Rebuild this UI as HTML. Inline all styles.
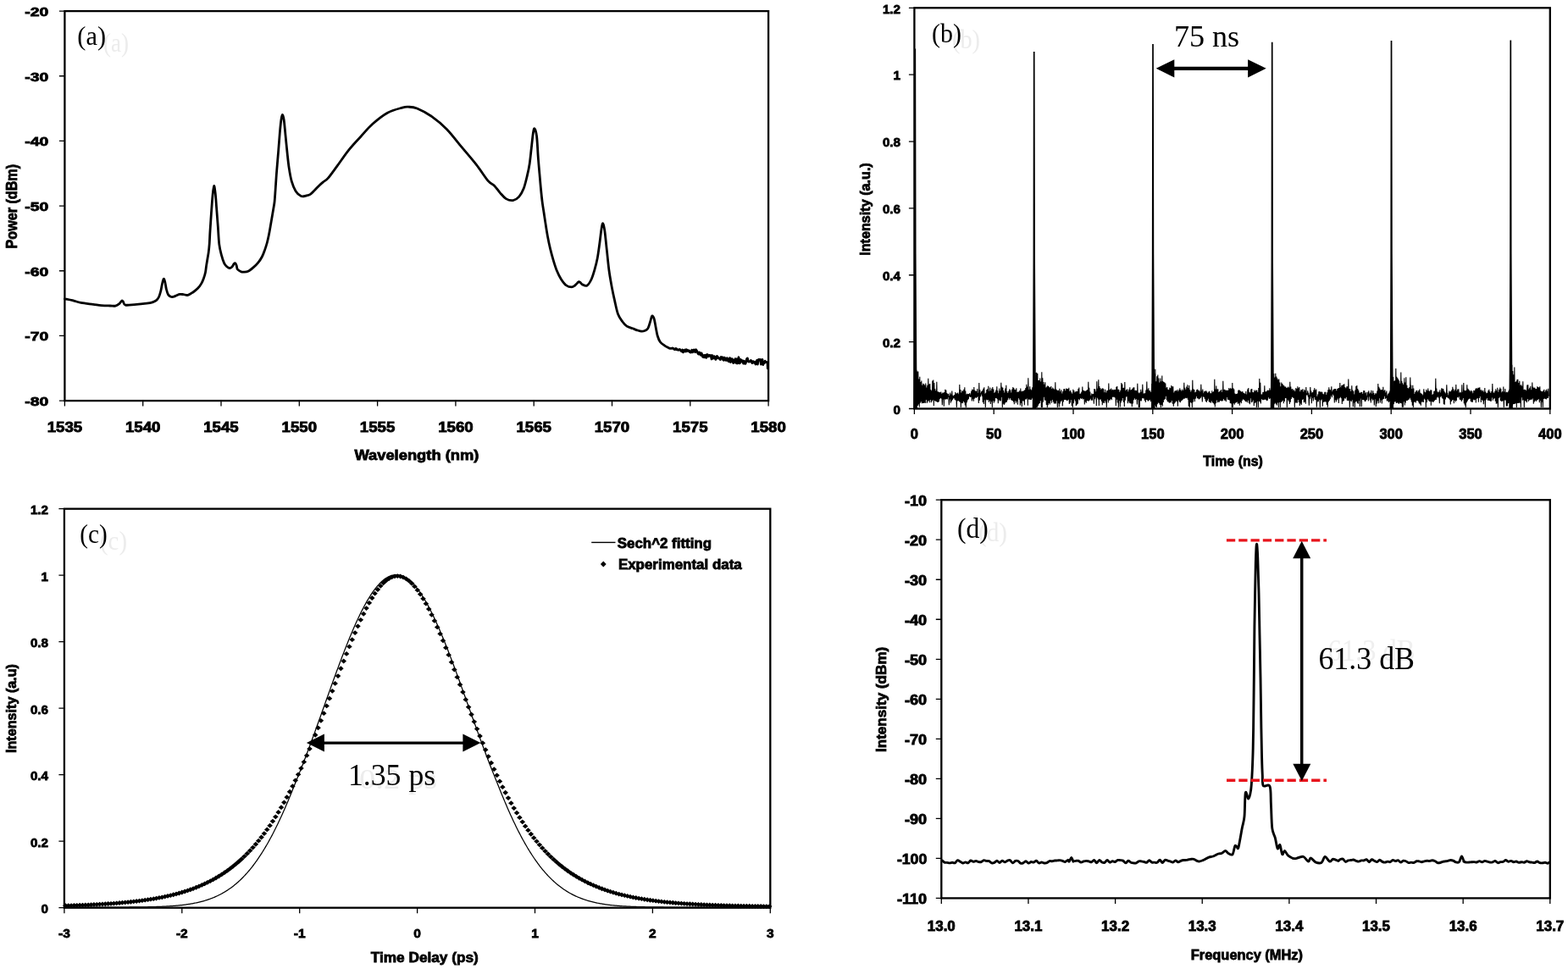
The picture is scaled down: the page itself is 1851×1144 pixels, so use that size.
<!DOCTYPE html><html><head><meta charset="utf-8"><title>Figure</title><style>html,body{margin:0;padding:0;background:#fff;overflow:hidden;}svg{display:block;}</style></head><body>
<svg width="1851" height="1144" viewBox="0 0 1851 1144">
<rect width="1851" height="1144" fill="#fff"/>
<path d="M76.4,352.8 C77.95,353.12 82.53,353.93 85.7,354.7 C88.87,355.47 91.35,356.63 95.4,357.4 C99.45,358.17 105.93,358.77 110,359.3 C114.07,359.83 116.47,360.32 119.8,360.6 C123.13,360.88 127.25,360.92 130,361 C132.75,361.08 134.5,361.5 136.3,361.1 C138.1,360.7 139.53,359.62 140.8,358.6 C142.07,357.58 143.1,355.33 143.9,355 C144.7,354.67 144.92,355.75 145.6,356.6 C146.28,357.45 145.82,359.6 148,360.1 C150.18,360.6 154.5,359.93 158.7,359.6 C162.9,359.27 169.65,358.57 173.2,358.1 C176.75,357.63 178.12,357.38 180,356.8 C181.88,356.22 183.23,355.65 184.5,354.6 C185.77,353.55 186.72,352.35 187.6,350.5 C188.48,348.65 189.17,346 189.8,343.5 C190.43,341 190.83,337.88 191.4,335.5 C191.97,333.12 192.62,329.53 193.2,329.2 C193.78,328.87 194.37,331.45 194.9,333.5 C195.43,335.55 195.8,339.12 196.4,341.5 C197,343.88 197.65,346.35 198.5,347.8 C199.35,349.25 200.52,349.77 201.5,350.2 C202.48,350.63 203.23,350.63 204.4,350.4 C205.57,350.17 207.22,349.3 208.5,348.8 C209.78,348.3 210.77,347.6 212.1,347.4 C213.43,347.2 214.87,347.43 216.5,347.6 C218.13,347.77 220,348.83 221.9,348.4 C223.8,347.97 225.95,346.35 227.9,345 C229.85,343.65 231.95,342.03 233.6,340.3 C235.25,338.57 236.67,336.52 237.8,334.6 C238.93,332.68 239.62,330.98 240.4,328.8 C241.18,326.62 241.97,324.03 242.5,321.5 C243.03,318.97 243.2,316.23 243.6,313.6 C244,310.97 244.47,308.32 244.9,305.7 C245.33,303.08 245.82,300.85 246.2,297.9 C246.58,294.95 246.9,292.17 247.2,288 C247.5,283.83 247.63,278.9 248,272.9 C248.37,266.9 248.9,258.98 249.4,252 C249.9,245.02 250.47,236.43 251,231 C251.53,225.57 252.05,219.73 252.6,219.4 C253.15,219.07 253.78,224.45 254.3,229 C254.82,233.55 255.2,240.25 255.7,246.7 C256.2,253.15 256.78,260.7 257.3,267.7 C257.82,274.7 258.1,283.1 258.8,288.7 C259.5,294.3 260.53,297.63 261.5,301.3 C262.47,304.97 263.6,308.5 264.6,310.7 C265.6,312.9 266.45,313.53 267.5,314.5 C268.55,315.47 269.82,316.43 270.9,316.5 C271.98,316.57 273.12,315.73 274,314.9 C274.88,314.07 275.58,312.2 276.2,311.5 C276.82,310.8 277.2,310.37 277.7,310.7 C278.2,311.03 278.75,312.28 279.2,313.5 C279.65,314.72 279.52,316.8 280.4,318 C281.28,319.2 283.33,320.18 284.5,320.7 C285.67,321.22 286,321.17 287.4,321.1 C288.8,321.03 290.93,321.22 292.9,320.3 C294.87,319.38 297.23,317.3 299.2,315.6 C301.17,313.9 303,312.2 304.7,310.1 C306.4,308 308.08,305.5 309.4,303 C310.72,300.5 311.62,297.85 312.6,295.1 C313.58,292.35 314.52,289.38 315.3,286.5 C316.08,283.62 316.63,281.08 317.3,277.8 C317.97,274.52 318.65,270.48 319.3,266.8 C319.95,263.12 320.62,259.12 321.2,255.7 C321.78,252.28 322.32,249.25 322.8,246.3 C323.28,243.35 323.72,241.6 324.1,238 C324.48,234.4 324.7,230.37 325.1,224.7 C325.5,219.03 325.93,211.45 326.5,204 C327.07,196.55 327.87,187.83 328.5,180 C329.13,172.17 329.72,163.5 330.3,157 C330.88,150.5 331.45,144.58 332,141 C332.55,137.42 333.07,135.37 333.6,135.5 C334.13,135.63 334.63,137.78 335.2,141.8 C335.77,145.82 336.35,153.13 337,159.6 C337.65,166.07 338.4,174.13 339.1,180.6 C339.8,187.07 340.33,192.8 341.2,198.4 C342.07,204 342.98,209.65 344.3,214.2 C345.62,218.75 347.25,222.82 349.1,225.7 C350.95,228.58 353.32,230.62 355.4,231.5 C357.48,232.38 359.77,231.35 361.6,231 C363.43,230.65 364.75,230.48 366.4,229.4 C368.05,228.32 369.75,226.25 371.5,224.5 C373.25,222.75 375.15,220.57 376.9,218.9 C378.65,217.23 380.25,215.95 382,214.5 C383.75,213.05 384.75,213.25 387.4,210.2 C390.05,207.15 393.82,201.75 397.9,196.2 C401.98,190.65 407.23,182.73 411.9,176.9 C416.57,171.07 421.23,166.3 425.9,161.2 C430.57,156.1 434.65,150.97 439.9,146.3 C445.15,141.63 451.57,136.4 457.4,133.2 C463.23,130 470.82,128.27 474.9,127.1 C478.98,125.93 479,126.05 481.9,126.2 C484.8,126.35 487.65,126.1 492.3,128 C496.95,129.9 503.97,133.52 509.8,137.6 C515.63,141.68 521.47,146.53 527.3,152.5 C533.13,158.47 538.97,166.42 544.8,173.4 C550.63,180.38 557.05,187.68 562.3,194.4 C567.55,201.12 572.8,209.62 576.3,213.7 C579.8,217.78 580.97,216.58 583.3,218.9 C585.63,221.22 587.97,224.98 590.3,227.6 C592.63,230.22 594.75,233.1 597.3,234.6 C599.85,236.1 603.05,236.97 605.6,236.6 C608.15,236.23 610.5,234.73 612.6,232.4 C614.7,230.07 616.57,226.8 618.2,222.6 C619.83,218.4 621.23,212.1 622.4,207.2 C623.57,202.3 624.38,198.57 625.2,193.2 C626.02,187.83 626.6,181.07 627.3,175 C628,168.93 628.77,160.65 629.4,156.8 C630.03,152.95 630.4,151.2 631.1,151.9 C631.8,152.6 632.9,155.32 633.6,161 C634.3,166.68 634.75,178.67 635.3,186 C635.85,193.33 636.38,199 636.9,205 C637.42,211 637.87,216.48 638.4,222 C638.93,227.52 639.5,233.32 640.1,238.1 C640.7,242.88 641.37,246.48 642,250.7 C642.63,254.92 643.17,258.73 643.9,263.4 C644.63,268.07 645.45,273.62 646.4,278.7 C647.35,283.78 648.43,289.05 649.6,293.9 C650.77,298.75 652.13,303.58 653.4,307.8 C654.67,312.02 655.72,315.6 657.2,319.2 C658.68,322.8 660.4,326.43 662.3,329.4 C664.2,332.37 666.5,335.42 668.6,337 C670.7,338.58 673.22,338.9 674.9,338.9 C676.58,338.9 677.6,337.78 678.7,337 C679.8,336.22 680.72,334.93 681.5,334.2 C682.28,333.47 682.72,332.63 683.4,332.6 C684.08,332.57 684.92,333.45 685.6,334 C686.28,334.55 686.3,335.37 687.5,335.9 C688.7,336.43 691.05,338.18 692.8,337.2 C694.55,336.22 696.47,333.17 698,330 C699.53,326.83 700.8,322.35 702,318.2 C703.2,314.05 704.22,310.35 705.2,305.1 C706.18,299.85 707.08,292.6 707.9,286.7 C708.72,280.8 709.45,273.52 710.1,269.7 C710.75,265.88 711.18,263.37 711.8,263.8 C712.42,264.23 713.03,266.95 713.8,272.3 C714.57,277.65 715.53,288.03 716.4,295.9 C717.27,303.77 718.02,312.28 719,319.5 C719.98,326.72 721.2,333.3 722.3,339.2 C723.4,345.1 724.4,349.65 725.6,354.9 C726.8,360.15 727.97,366.55 729.5,370.7 C731.03,374.85 733.05,377.4 734.8,379.8 C736.55,382.2 737.98,383.77 740,385.1 C742.02,386.43 744.9,387.02 746.9,387.8 C748.9,388.58 750.25,389.23 752,389.8 C753.75,390.37 755.82,391.13 757.4,391.2 C758.98,391.27 760.25,390.8 761.5,390.2 C762.75,389.6 763.87,389.4 764.9,387.6 C765.93,385.8 766.9,381.83 767.7,379.4 C768.5,376.97 768.95,373.48 769.7,373 C770.45,372.52 771.45,374.22 772.2,376.5 C772.95,378.78 773.53,383.37 774.2,386.7 C774.87,390.03 775.33,393.65 776.2,396.5 C777.07,399.35 778.05,401.92 779.4,403.8 C780.75,405.68 782.4,406.53 784.3,407.8 C786.2,409.07 789.72,410.8 790.8,411.4 L792,411.29 L792.8,411.44 L793.6,411 L794.4,411.05 L795.2,411.67 L796,412.4 L796.8,412.69 L797.6,411.48 L798.4,411.55 L799.2,412.93 L800,412.71 L800.8,413.23 L801.6,412.81 L802.4,412.34 L803.2,413.39 L804,414.32 L804.8,414.89 L805.6,413 L806.4,415.83 L807.2,415.16 L808,413.44 L808.8,412.97 L809.6,415.03 L810.4,412.71 L811.2,414.41 L812,413.51 L812.8,414.46 L813.6,413.97 L814.4,415.7 L815.2,416.11 L816,415.89 L816.8,413.28 L817.6,415.84 L818.4,414.47 L819.2,412.95 L820,414.95 L820.8,415.65 L821.6,412.78 L822.4,414.03 L823.2,415.46 L824,417.4 L824.8,418.13 L825.6,415.94 L826.4,417.56 L827.2,419.23 L828,416.9 L828.8,418.63 L829.6,421.35 L830.4,419.61 L831.2,421.91 L832,419.41 L832.8,419.6 L833.6,422.43 L834.4,418.6 L835.2,418.72 L836,420.9 L836.8,419.63 L837.6,419.41 L838.4,420.52 L839.2,419.6 L840,423.97 L840.8,419.61 L841.6,423.06 L842.4,422.93 L843.2,420.62 L844,421.5 L844.8,424.39 L845.6,421.38 L846.4,420.42 L847.2,422.71 L848,421.97 L848.8,423.04 L849.6,423.64 L850.4,424.55 L851.2,421.52 L852,422.71 L852.8,421.74 L853.6,424.73 L854.4,425.22 L855.2,422.12 L856,423.1 L856.8,425.35 L857.6,425.42 L858.4,422.74 L859.2,425.29 L860,426.67 L860.8,425.78 L861.6,422.69 L862.4,427.58 L863.2,426.83 L864,423.68 L864.8,424.72 L865.6,428.58 L866.4,425.28 L867.2,427.24 L868,423.73 L868.8,428.42 L869.6,423.92 L870.4,428.99 L871.2,425.23 L872,421.75 L872.8,428.89 L873.6,428.56 L874.4,424.54 L875.2,425.08 L876,426.95 L876.8,425.95 L877.6,429.09 L878.4,426.27 L879.2,429.14 L880,429.27 L880.8,426.84 L881.6,423.57 L882.4,423.03 L883.2,426.56 L884,427.13 L884.8,426.92 L885.6,426.9 L886.4,425.39 L887.2,426.95 L888,428.66 L888.8,426.58 L889.6,427.03 L890.4,428.3 L891.2,427.22 L892,429.99 L892.8,429.56 L893.6,425.36 L894.4,430.04 L895.2,424.5 L896,424.33 L896.8,425.01 L897.6,424.37 L898.4,430.07 L899.2,426.06 L900,424.45 L900.8,430.5 L901.6,428.19 L902.4,428.47 L903.2,426.31 L904,427.45 L904.8,427.39 L906,428.5 L906.3,435" fill="none" stroke="#000" stroke-width="2.8" stroke-linejoin="round" stroke-linecap="round"/>
<rect x="76.4" y="13.1" width="830.7" height="460" fill="none" stroke="#000" stroke-width="2.3"/>
<path d="M76.4,473.1V479.6M168.7,473.1V479.6M261,473.1V479.6M353.3,473.1V479.6M445.6,473.1V479.6M537.9,473.1V479.6M630.2,473.1V479.6M722.5,473.1V479.6M814.8,473.1V479.6M907.1,473.1V479.6" stroke="#000" stroke-width="1.3" fill="none"/>
<path d="M69.9,13.1H76.4M69.9,89.77H76.4M69.9,166.43H76.4M69.9,243.1H76.4M69.9,319.77H76.4M69.9,396.43H76.4M69.9,473.1H76.4" stroke="#000" stroke-width="1.3" fill="none"/>
<text x="76.4" y="509.5" font-family="'Liberation Sans', Arial, sans-serif" font-size="16.5" font-weight="bold" text-anchor="middle" fill="#000" textLength="41.5" lengthAdjust="spacingAndGlyphs" stroke="#000" stroke-width="0.8">1535</text>
<text x="168.7" y="509.5" font-family="'Liberation Sans', Arial, sans-serif" font-size="16.5" font-weight="bold" text-anchor="middle" fill="#000" textLength="41.5" lengthAdjust="spacingAndGlyphs" stroke="#000" stroke-width="0.8">1540</text>
<text x="261" y="509.5" font-family="'Liberation Sans', Arial, sans-serif" font-size="16.5" font-weight="bold" text-anchor="middle" fill="#000" textLength="41.5" lengthAdjust="spacingAndGlyphs" stroke="#000" stroke-width="0.8">1545</text>
<text x="353.3" y="509.5" font-family="'Liberation Sans', Arial, sans-serif" font-size="16.5" font-weight="bold" text-anchor="middle" fill="#000" textLength="41.5" lengthAdjust="spacingAndGlyphs" stroke="#000" stroke-width="0.8">1550</text>
<text x="445.6" y="509.5" font-family="'Liberation Sans', Arial, sans-serif" font-size="16.5" font-weight="bold" text-anchor="middle" fill="#000" textLength="41.5" lengthAdjust="spacingAndGlyphs" stroke="#000" stroke-width="0.8">1555</text>
<text x="537.9" y="509.5" font-family="'Liberation Sans', Arial, sans-serif" font-size="16.5" font-weight="bold" text-anchor="middle" fill="#000" textLength="41.5" lengthAdjust="spacingAndGlyphs" stroke="#000" stroke-width="0.8">1560</text>
<text x="630.2" y="509.5" font-family="'Liberation Sans', Arial, sans-serif" font-size="16.5" font-weight="bold" text-anchor="middle" fill="#000" textLength="41.5" lengthAdjust="spacingAndGlyphs" stroke="#000" stroke-width="0.8">1565</text>
<text x="722.5" y="509.5" font-family="'Liberation Sans', Arial, sans-serif" font-size="16.5" font-weight="bold" text-anchor="middle" fill="#000" textLength="41.5" lengthAdjust="spacingAndGlyphs" stroke="#000" stroke-width="0.8">1570</text>
<text x="814.8" y="509.5" font-family="'Liberation Sans', Arial, sans-serif" font-size="16.5" font-weight="bold" text-anchor="middle" fill="#000" textLength="41.5" lengthAdjust="spacingAndGlyphs" stroke="#000" stroke-width="0.8">1575</text>
<text x="907.1" y="509.5" font-family="'Liberation Sans', Arial, sans-serif" font-size="16.5" font-weight="bold" text-anchor="middle" fill="#000" textLength="41.5" lengthAdjust="spacingAndGlyphs" stroke="#000" stroke-width="0.8">1580</text>
<text x="57.3" y="19" font-family="'Liberation Sans', Arial, sans-serif" font-size="15.5" font-weight="bold" text-anchor="end" fill="#000" textLength="28" lengthAdjust="spacingAndGlyphs" stroke="#000" stroke-width="0.8">-20</text>
<text x="57.3" y="95.67" font-family="'Liberation Sans', Arial, sans-serif" font-size="15.5" font-weight="bold" text-anchor="end" fill="#000" textLength="28" lengthAdjust="spacingAndGlyphs" stroke="#000" stroke-width="0.8">-30</text>
<text x="57.3" y="172.33" font-family="'Liberation Sans', Arial, sans-serif" font-size="15.5" font-weight="bold" text-anchor="end" fill="#000" textLength="28" lengthAdjust="spacingAndGlyphs" stroke="#000" stroke-width="0.8">-40</text>
<text x="57.3" y="249" font-family="'Liberation Sans', Arial, sans-serif" font-size="15.5" font-weight="bold" text-anchor="end" fill="#000" textLength="28" lengthAdjust="spacingAndGlyphs" stroke="#000" stroke-width="0.8">-50</text>
<text x="57.3" y="325.67" font-family="'Liberation Sans', Arial, sans-serif" font-size="15.5" font-weight="bold" text-anchor="end" fill="#000" textLength="28" lengthAdjust="spacingAndGlyphs" stroke="#000" stroke-width="0.8">-60</text>
<text x="57.3" y="402.33" font-family="'Liberation Sans', Arial, sans-serif" font-size="15.5" font-weight="bold" text-anchor="end" fill="#000" textLength="28" lengthAdjust="spacingAndGlyphs" stroke="#000" stroke-width="0.8">-70</text>
<text x="57.3" y="479" font-family="'Liberation Sans', Arial, sans-serif" font-size="15.5" font-weight="bold" text-anchor="end" fill="#000" textLength="28" lengthAdjust="spacingAndGlyphs" stroke="#000" stroke-width="0.8">-80</text>
<text x="491.9" y="543" font-family="'Liberation Sans', Arial, sans-serif" font-size="17" font-weight="bold" text-anchor="middle" fill="#000" textLength="147" lengthAdjust="spacingAndGlyphs" stroke="#000" stroke-width="0.8">Wavelength (nm)</text>
<text transform="translate(20.2,243.7) rotate(-90)" x="0" y="0" font-family="'Liberation Sans', Arial, sans-serif" font-size="17.5" font-weight="bold" text-anchor="middle" stroke="#000" stroke-width="0.8" textLength="99.5" lengthAdjust="spacingAndGlyphs">Power (dBm)</text>
<text x="122" y="61" font-family="'Liberation Serif', 'Times New Roman', serif" font-size="32" font-weight="normal" text-anchor="start" fill="#ececec" textLength="30" lengthAdjust="spacingAndGlyphs">(a)</text>
<text x="91.3" y="52.9" font-family="'Liberation Serif', 'Times New Roman', serif" font-size="32.5" font-weight="normal" text-anchor="start" fill="#000" textLength="33.7" lengthAdjust="spacingAndGlyphs">(a)</text>
<path d="M1080.8,459.09 L1081.3,471.93 L1081.8,436.77 L1082.3,481 L1082.8,438.61 L1083.3,478.91 L1083.8,438.54 L1084.3,477.53 L1084.8,447.41 L1085.3,480.56 L1085.8,444.85 L1086.3,475.76 L1086.8,451.06 L1087.3,474.16 L1087.8,449.41 L1088.3,476.32 L1088.8,454.76 L1089.3,476.02 L1089.8,452.69 L1090.3,476.07 L1090.8,453.4 L1091.3,475.46 L1091.8,454.65 L1092.3,476.07 L1092.8,452.62 L1093.3,471.91 L1093.8,457.53 L1094.3,476.05 L1094.8,454.76 L1095.3,474.16 L1095.8,446.84 L1096.3,473 L1096.8,453.69 L1097.3,475.17 L1097.8,453 L1098.3,471.95 L1098.8,459.96 L1099.3,475.32 L1099.8,461.16 L1100.3,473.51 L1100.8,449.44 L1101.3,472.28 L1101.8,448.56 L1102.3,479.24 L1102.8,452.04 L1103.3,472.91 L1103.8,459.01 L1104.3,473.64 L1104.8,461.33 L1105.3,474.02 L1105.8,450.68 L1106.3,474.7 L1106.8,462.33 L1107.3,474.88 L1107.8,462.5 L1108.3,474.23 L1108.8,463 L1109.3,471.18 L1109.8,463.25 L1110.3,469.97 L1110.8,462.42 L1111.3,470.81 L1111.8,464.79 L1112.3,478.19 L1112.8,463.6 L1113.3,471.58 L1113.8,463.66 L1114.3,479.84 L1114.8,462.98 L1115.3,471.33 L1115.8,459.71 L1116.3,471.84 L1116.8,460.56 L1117.3,470.9 L1117.8,464.02 L1118.3,471.56 L1118.8,465.3 L1119.3,468.58 L1119.8,464.88 L1120.3,478.17 L1120.8,467.4 L1121.3,471.5 L1121.8,463.6 L1122.3,475.84 L1122.8,465.49 L1123.3,473.76 L1123.8,461.41 L1124.3,472.27 L1124.8,466.87 L1125.3,470.49 L1125.8,467.25 L1126.3,470.09 L1126.8,466.14 L1127.3,471.95 L1127.8,463.01 L1128.3,472.67 L1128.8,464.49 L1129.3,480.9 L1129.8,464.21 L1130.3,473.39 L1130.8,463.56 L1131.3,472.95 L1131.8,465.36 L1132.3,474.09 L1132.8,454.01 L1133.3,474.86 L1133.8,460 L1134.3,481 L1134.8,463.44 L1135.3,475.78 L1135.8,461.31 L1136.3,476.27 L1136.8,461.76 L1137.3,473.85 L1137.8,459.79 L1138.3,475.25 L1138.8,457.22 L1139.3,478.37 L1139.8,461.56 L1140.3,481 L1140.8,465.52 L1141.3,475.12 L1141.8,464.84 L1142.3,472.38 L1142.8,465.27 L1143.3,471.15 L1143.8,464.99 L1144.3,467.83 L1144.8,464.09 L1145.3,468.93 L1145.8,465.77 L1146.3,468.66 L1146.8,461.59 L1147.3,473.5 L1147.8,459.53 L1148.3,471.21 L1148.8,460.31 L1149.3,473.64 L1149.8,457.09 L1150.3,470.82 L1150.8,460.82 L1151.3,469.1 L1151.8,461.7 L1152.3,470 L1152.8,461.77 L1153.3,468.9 L1153.8,459.08 L1154.3,467.84 L1154.8,464.04 L1155.3,476.06 L1155.8,451.9 L1156.3,472.69 L1156.8,460.35 L1157.3,468.36 L1157.8,464.24 L1158.3,465.23 L1158.8,462.17 L1159.3,467.63 L1159.8,460.9 L1160.3,474.95 L1160.8,458.66 L1161.3,477.11 L1161.8,457.22 L1162.3,472.14 L1162.8,464.67 L1163.3,481 L1163.8,463.79 L1164.3,471.73 L1164.8,459.92 L1165.3,472.41 L1165.8,459.3 L1166.3,472.03 L1166.8,455.82 L1167.3,474.8 L1167.8,461.77 L1168.3,473.11 L1168.8,457.63 L1169.3,477.07 L1169.8,461.27 L1170.3,474.35 L1170.8,458.86 L1171.3,480.93 L1171.8,456.91 L1172.3,473.3 L1172.8,459.48 L1173.3,475.7 L1173.8,464.1 L1174.3,473.81 L1174.8,462.66 L1175.3,470 L1175.8,460.65 L1176.3,470.3 L1176.8,456.36 L1177.3,471.23 L1177.8,461.15 L1178.3,476.3 L1178.8,464.22 L1179.3,472.23 L1179.8,458.62 L1180.3,473.48 L1180.8,461.33 L1181.3,473.22 L1181.8,451.65 L1182.3,469.04 L1182.8,456.7 L1183.3,481 L1183.8,457.69 L1184.3,476.64 L1184.8,460.95 L1185.3,477.94 L1185.8,463.59 L1186.3,476.58 L1186.8,458.56 L1187.3,475.04 L1187.8,454.79 L1188.3,474.65 L1188.8,462.08 L1189.3,472.39 L1189.8,464.14 L1190.3,469.68 L1190.8,461.53 L1191.3,471.63 L1191.8,459.32 L1192.3,469.98 L1192.8,460.58 L1193.3,471.8 L1193.8,463.41 L1194.3,472.81 L1194.8,459.55 L1195.3,472.97 L1195.8,456.95 L1196.3,474.49 L1196.8,457.96 L1197.3,477.14 L1197.8,459.72 L1198.3,473.32 L1198.8,460.16 L1199.3,475.63 L1199.8,458.24 L1200.3,473.82 L1200.8,463.12 L1201.3,477.85 L1201.8,462.55 L1202.3,470.02 L1202.8,462.45 L1203.3,471.74 L1203.8,461.15 L1204.3,478.51 L1204.8,458.53 L1205.3,475.83 L1205.8,462.31 L1206.3,480.18 L1206.8,461.59 L1207.3,473.31 L1207.8,462 L1208.3,473.49 L1208.8,461.14 L1209.3,478.16 L1209.8,460.22 L1210.3,471.38 L1210.8,457.96 L1211.3,471.54 L1211.8,453.74 L1212.3,470.51 L1212.8,456.43 L1213.3,478.78 L1213.8,446.32 L1214.3,471.39 L1214.8,459.9 L1215.3,471.68 L1215.8,456.36 L1216.3,472 L1216.8,459.51 L1217.3,471.88 L1217.8,460.57 L1218.3,470.53 L1218.8,457.32 L1219.3,469.05 L1219.8,455.1 L1220.3,474.07 L1220.8,459.15 L1221.3,475.16 L1221.8,461.79 L1222.3,481.2 L1222.8,440.05 L1223.3,481 L1223.8,439.74 L1224.3,481 L1224.8,440.89 L1225.3,479.16 L1225.8,448.94 L1226.3,477.17 L1226.8,449.03 L1227.3,475.88 L1227.8,446.43 L1228.3,473.17 L1228.8,450.57 L1229.3,481 L1229.8,439.22 L1230.3,481 L1230.8,446.3 L1231.3,474.86 L1231.8,451.09 L1232.3,468.65 L1232.8,453.82 L1233.3,472.42 L1233.8,451.19 L1234.3,472.81 L1234.8,457.41 L1235.3,478.11 L1235.8,456.48 L1236.3,481 L1236.8,455.22 L1237.3,478.3 L1237.8,455.97 L1238.3,475.91 L1238.8,457.36 L1239.3,477.61 L1239.8,457.2 L1240.3,473.01 L1240.8,455.91 L1241.3,475.64 L1241.8,459.06 L1242.3,472.01 L1242.8,457.59 L1243.3,474.42 L1243.8,458.73 L1244.3,476.45 L1244.8,459.74 L1245.3,476.43 L1245.8,451.14 L1246.3,476.41 L1246.8,459.49 L1247.3,473.34 L1247.8,460.63 L1248.3,481 L1248.8,461.1 L1249.3,476.24 L1249.8,460.82 L1250.3,480.37 L1250.8,458.74 L1251.3,476.47 L1251.8,462.33 L1252.3,474.06 L1252.8,460.37 L1253.3,472.64 L1253.8,464.46 L1254.3,479.55 L1254.8,461.96 L1255.3,474.39 L1255.8,459.17 L1256.3,471.99 L1256.8,458.97 L1257.3,471.99 L1257.8,461.28 L1258.3,471.92 L1258.8,458.62 L1259.3,473.22 L1259.8,458.94 L1260.3,472.77 L1260.8,459.15 L1261.3,471.75 L1261.8,457.82 L1262.3,476.94 L1262.8,462.06 L1263.3,475.57 L1263.8,460.71 L1264.3,472.02 L1264.8,463.38 L1265.3,479.29 L1265.8,464.82 L1266.3,481 L1266.8,459.64 L1267.3,476.35 L1267.8,461.07 L1268.3,471.39 L1268.8,463.39 L1269.3,473.36 L1269.8,462.29 L1270.3,479.18 L1270.8,461.95 L1271.3,477.75 L1271.8,461.92 L1272.3,476.69 L1272.8,459.24 L1273.3,471.35 L1273.8,457.45 L1274.3,472.55 L1274.8,465.01 L1275.3,470.02 L1275.8,464.6 L1276.3,470.9 L1276.8,462.49 L1277.3,470.3 L1277.8,456.51 L1278.3,471.4 L1278.8,460.72 L1279.3,470.92 L1279.8,461.31 L1280.3,477.41 L1280.8,461.65 L1281.3,474.47 L1281.8,461.52 L1282.3,475.73 L1282.8,460.66 L1283.3,473.03 L1283.8,459.91 L1284.3,473.58 L1284.8,450.79 L1285.3,473.4 L1285.8,457.78 L1286.3,472.35 L1286.8,462.64 L1287.3,470.73 L1287.8,467.07 L1288.3,472.63 L1288.8,464.62 L1289.3,472.68 L1289.8,465.28 L1290.3,468.14 L1290.8,465.11 L1291.3,476.62 L1291.8,458.9 L1292.3,471.22 L1292.8,459.51 L1293.3,469.27 L1293.8,462.18 L1294.3,479.21 L1294.8,450.34 L1295.3,469.66 L1295.8,458.89 L1296.3,471.37 L1296.8,448.3 L1297.3,479.07 L1297.8,455.93 L1298.3,471.65 L1298.8,457.94 L1299.3,471.58 L1299.8,459.83 L1300.3,473.64 L1300.8,458.68 L1301.3,478.2 L1301.8,458.24 L1302.3,475.53 L1302.8,459.36 L1303.3,475.99 L1303.8,463.27 L1304.3,473.12 L1304.8,459.88 L1305.3,475.59 L1305.8,463.58 L1306.3,481 L1306.8,461.24 L1307.3,471.57 L1307.8,460.84 L1308.3,475.5 L1308.8,452.59 L1309.3,472.67 L1309.8,460.34 L1310.3,472.43 L1310.8,459.55 L1311.3,470.86 L1311.8,458.49 L1312.3,472.27 L1312.8,460.54 L1313.3,468.64 L1313.8,459.75 L1314.3,468.75 L1314.8,460.63 L1315.3,468.71 L1315.8,459.71 L1316.3,469.4 L1316.8,459.98 L1317.3,479.33 L1317.8,456.88 L1318.3,471.66 L1318.8,455.94 L1319.3,475.41 L1319.8,459.7 L1320.3,480.87 L1320.8,459.74 L1321.3,473.13 L1321.8,462.84 L1322.3,480.38 L1322.8,460.65 L1323.3,475.36 L1323.8,452.12 L1324.3,473.01 L1324.8,453.43 L1325.3,470.06 L1325.8,458.05 L1326.3,474.66 L1326.8,457.74 L1327.3,479.87 L1327.8,450.96 L1328.3,472.8 L1328.8,461.39 L1329.3,468.55 L1329.8,459.92 L1330.3,468.3 L1330.8,459.4 L1331.3,476.23 L1331.8,462.24 L1332.3,473.79 L1332.8,459.73 L1333.3,475.75 L1333.8,457.3 L1334.3,476.16 L1334.8,460.61 L1335.3,476.54 L1335.8,459.96 L1336.3,480.13 L1336.8,458.65 L1337.3,476.58 L1337.8,457.55 L1338.3,472.19 L1338.8,457.37 L1339.3,470.33 L1339.8,460.92 L1340.3,471.98 L1340.8,460.7 L1341.3,470.9 L1341.8,461.19 L1342.3,477.43 L1342.8,452.64 L1343.3,471.95 L1343.8,463.2 L1344.3,481 L1344.8,464.3 L1345.3,481 L1345.8,463.28 L1346.3,473.14 L1346.8,459.85 L1347.3,473.37 L1347.8,462.51 L1348.3,470.19 L1348.8,453.77 L1349.3,470.27 L1349.8,464.81 L1350.3,470.42 L1350.8,464.3 L1351.3,473.01 L1351.8,464.37 L1352.3,475.05 L1352.8,460.64 L1353.3,472.05 L1353.8,450.52 L1354.3,472.6 L1354.8,459.77 L1355.3,473.69 L1355.8,458.37 L1356.3,472.82 L1356.8,461.18 L1357.3,471.89 L1357.8,461.33 L1358.3,474.25 L1358.8,463.03 L1359.3,472.7 L1359.8,453.06 L1360.3,470.88 L1360.8,463 L1361.3,478.05 L1361.8,458.93 L1362.3,475.77 L1362.8,440.97 L1363.3,478.32 L1363.8,435.65 L1364.3,479.98 L1364.8,450.2 L1365.3,480.93 L1365.8,444.33 L1366.3,477.23 L1366.8,442.53 L1367.3,475.54 L1367.8,446.52 L1368.3,476.28 L1368.8,451.53 L1369.3,477.95 L1369.8,446.51 L1370.3,481 L1370.8,450.16 L1371.3,478.09 L1371.8,443.59 L1372.3,479.69 L1372.8,449.99 L1373.3,474.96 L1373.8,450.94 L1374.3,472.33 L1374.8,451.5 L1375.3,470.94 L1375.8,452.57 L1376.3,467.81 L1376.8,457.84 L1377.3,472.14 L1377.8,457.02 L1378.3,474.22 L1378.8,459.78 L1379.3,474.5 L1379.8,460.29 L1380.3,475.75 L1380.8,457.51 L1381.3,475.23 L1381.8,458.3 L1382.3,475.15 L1382.8,454.93 L1383.3,472.88 L1383.8,456.18 L1384.3,476.73 L1384.8,456.21 L1385.3,479.65 L1385.8,463.57 L1386.3,476.5 L1386.8,461.83 L1387.3,475.23 L1387.8,460.99 L1388.3,473.54 L1388.8,461.53 L1389.3,474.16 L1389.8,460.03 L1390.3,479.71 L1390.8,462.06 L1391.3,472.58 L1391.8,460.21 L1392.3,474.44 L1392.8,458.39 L1393.3,475.31 L1393.8,460.38 L1394.3,473.6 L1394.8,461.61 L1395.3,472.72 L1395.8,459.44 L1396.3,471.81 L1396.8,460.98 L1397.3,470.81 L1397.8,451.72 L1398.3,470.7 L1398.8,457.84 L1399.3,469.61 L1399.8,459.88 L1400.3,470.26 L1400.8,456.49 L1401.3,469.69 L1401.8,454.29 L1402.3,471.84 L1402.8,458.02 L1403.3,479.7 L1403.8,454.94 L1404.3,481 L1404.8,460.26 L1405.3,475.05 L1405.8,462.55 L1406.3,475.61 L1406.8,460.59 L1407.3,481 L1407.8,448.83 L1408.3,474.73 L1408.8,459.27 L1409.3,471.27 L1409.8,459.93 L1410.3,474.35 L1410.8,463.26 L1411.3,470.6 L1411.8,462.59 L1412.3,467.95 L1412.8,459.94 L1413.3,470.27 L1413.8,459.43 L1414.3,470.39 L1414.8,461.04 L1415.3,471.5 L1415.8,460.98 L1416.3,470.77 L1416.8,462.64 L1417.3,469.65 L1417.8,453.85 L1418.3,468.16 L1418.8,461.4 L1419.3,474.55 L1419.8,459.6 L1420.3,468.09 L1420.8,464.29 L1421.3,468.99 L1421.8,462.06 L1422.3,470.85 L1422.8,461.88 L1423.3,473.64 L1423.8,461.23 L1424.3,475.02 L1424.8,462.58 L1425.3,472.87 L1425.8,464.09 L1426.3,470.75 L1426.8,462.53 L1427.3,474.57 L1427.8,461.77 L1428.3,474.86 L1428.8,464.31 L1429.3,475.62 L1429.8,464.29 L1430.3,473.45 L1430.8,461.37 L1431.3,475.33 L1431.8,463.01 L1432.3,475.97 L1432.8,462.1 L1433.3,477.59 L1433.8,447.74 L1434.3,480.37 L1434.8,459.41 L1435.3,476.31 L1435.8,455.56 L1436.3,472.55 L1436.8,459.58 L1437.3,475.15 L1437.8,459.16 L1438.3,474.52 L1438.8,462.95 L1439.3,474.83 L1439.8,461.98 L1440.3,473.23 L1440.8,461.09 L1441.3,473.2 L1441.8,459.65 L1442.3,473.6 L1442.8,463.12 L1443.3,473.24 L1443.8,449.66 L1444.3,471.03 L1444.8,460.01 L1445.3,472.65 L1445.8,459.82 L1446.3,472.72 L1446.8,460.66 L1447.3,474.2 L1447.8,460.85 L1448.3,469.04 L1448.8,460.75 L1449.3,471.78 L1449.8,460.73 L1450.3,472.09 L1450.8,457.93 L1451.3,472.38 L1451.8,459.27 L1452.3,475.91 L1452.8,457.89 L1453.3,476.45 L1453.8,459.08 L1454.3,481 L1454.8,452 L1455.3,481 L1455.8,458.33 L1456.3,476.35 L1456.8,459.48 L1457.3,477.74 L1457.8,464.46 L1458.3,475.66 L1458.8,465.3 L1459.3,475.23 L1459.8,465.1 L1460.3,474.37 L1460.8,464.45 L1461.3,476.67 L1461.8,460.78 L1462.3,476.23 L1462.8,460.21 L1463.3,478.82 L1463.8,461.07 L1464.3,474.73 L1464.8,462.07 L1465.3,476.17 L1465.8,462.74 L1466.3,472.94 L1466.8,462.12 L1467.3,471.13 L1467.8,463.88 L1468.3,471.88 L1468.8,463.95 L1469.3,472.75 L1469.8,465.08 L1470.3,474.22 L1470.8,462.09 L1471.3,474.03 L1471.8,465.53 L1472.3,475.12 L1472.8,459.57 L1473.3,472.8 L1473.8,458.07 L1474.3,475.68 L1474.8,462.83 L1475.3,477.13 L1475.8,463.59 L1476.3,470.14 L1476.8,459.64 L1477.3,475.22 L1477.8,459.14 L1478.3,474.45 L1478.8,462.93 L1479.3,472.39 L1479.8,463.23 L1480.3,479.31 L1480.8,460.6 L1481.3,476 L1481.8,461.86 L1482.3,475.07 L1482.8,460.4 L1483.3,481 L1483.8,460.7 L1484.3,473.76 L1484.8,462.96 L1485.3,481 L1485.8,457.94 L1486.3,473.78 L1486.8,446.98 L1487.3,474.47 L1487.8,451.67 L1488.3,476.41 L1488.8,465.51 L1489.3,470.94 L1489.8,465.55 L1490.3,472.29 L1490.8,463.08 L1491.3,472.23 L1491.8,462.67 L1492.3,471.98 L1492.8,455.28 L1493.3,471.48 L1493.8,462.39 L1494.3,472.03 L1494.8,462.26 L1495.3,473.17 L1495.8,461.37 L1496.3,472.85 L1496.8,460.57 L1497.3,469.17 L1497.8,460.95 L1498.3,471.06 L1498.8,458.37 L1499.3,470.4 L1499.8,460.53 L1500.3,470.15 L1500.8,462.16 L1501.3,478.47 L1501.8,463.92 L1502.3,474.56 L1502.8,460.94 L1503.3,481.18 L1503.8,441.12 L1504.3,477.21 L1504.8,445.44 L1505.3,475.8 L1505.8,440.68 L1506.3,477.34 L1506.8,444.46 L1507.3,478.51 L1507.8,446.47 L1508.3,475.39 L1508.8,448.31 L1509.3,481 L1509.8,447.6 L1510.3,475.09 L1510.8,451.46 L1511.3,481 L1511.8,456.36 L1512.3,474.97 L1512.8,451.49 L1513.3,473.97 L1513.8,453.08 L1514.3,472.72 L1514.8,454.55 L1515.3,476.18 L1515.8,455.36 L1516.3,474.05 L1516.8,456.46 L1517.3,470.1 L1517.8,456.49 L1518.3,470.11 L1518.8,458.08 L1519.3,481 L1519.8,457.51 L1520.3,472.29 L1520.8,456.44 L1521.3,473.83 L1521.8,457.62 L1522.3,476.91 L1522.8,450.71 L1523.3,474.75 L1523.8,456.49 L1524.3,470.95 L1524.8,459.63 L1525.3,468.63 L1525.8,458.95 L1526.3,469.55 L1526.8,460.69 L1527.3,470 L1527.8,460.33 L1528.3,481 L1528.8,461.93 L1529.3,475.4 L1529.8,458.09 L1530.3,475.45 L1530.8,458.92 L1531.3,475.69 L1531.8,456.27 L1532.3,471.95 L1532.8,458.36 L1533.3,474.63 L1533.8,457.07 L1534.3,479.04 L1534.8,462.15 L1535.3,476.53 L1535.8,460.27 L1536.3,477.86 L1536.8,460.34 L1537.3,471.98 L1537.8,459.39 L1538.3,471.26 L1538.8,462.44 L1539.3,475.25 L1539.8,459.88 L1540.3,474.36 L1540.8,461 L1541.3,476.72 L1541.8,457.03 L1542.3,466.47 L1542.8,464.49 L1543.3,466.49 L1543.8,461.23 L1544.3,468.74 L1544.8,463.87 L1545.3,478.82 L1545.8,466.25 L1546.3,470.71 L1546.8,457.14 L1547.3,468.18 L1547.8,461.57 L1548.3,476.24 L1548.8,463.48 L1549.3,470.06 L1549.8,463.01 L1550.3,473.5 L1550.8,460.61 L1551.3,468.9 L1551.8,458.15 L1552.3,471.8 L1552.8,460.58 L1553.3,472.23 L1553.8,459.44 L1554.3,480.84 L1554.8,468.01 L1555.3,474.34 L1555.8,465.59 L1556.3,474.22 L1556.8,462.37 L1557.3,472.05 L1557.8,462.12 L1558.3,481 L1558.8,462.72 L1559.3,472.52 L1559.8,462.65 L1560.3,471.39 L1560.8,462.88 L1561.3,479.69 L1561.8,464.9 L1562.3,474.84 L1562.8,465.61 L1563.3,474.54 L1563.8,462.66 L1564.3,474.33 L1564.8,462.88 L1565.3,474.58 L1565.8,466.04 L1566.3,478.03 L1566.8,463.26 L1567.3,480.79 L1567.8,460.33 L1568.3,474.44 L1568.8,457.24 L1569.3,473.04 L1569.8,459.82 L1570.3,471.13 L1570.8,460.58 L1571.3,467.27 L1571.8,456.27 L1572.3,469.24 L1572.8,462.39 L1573.3,465.31 L1573.8,460.35 L1574.3,467 L1574.8,459.19 L1575.3,475.49 L1575.8,459.1 L1576.3,472.29 L1576.8,459.1 L1577.3,474.38 L1577.8,461.21 L1578.3,472.31 L1578.8,459.13 L1579.3,470.48 L1579.8,458.35 L1580.3,476.02 L1580.8,458.09 L1581.3,470.26 L1581.8,452.04 L1582.3,468.8 L1582.8,457.24 L1583.3,470.11 L1583.8,455.11 L1584.3,476.89 L1584.8,454.85 L1585.3,473.74 L1585.8,454.09 L1586.3,473.15 L1586.8,453.26 L1587.3,470.15 L1587.8,456.94 L1588.3,470.82 L1588.8,458.26 L1589.3,468.95 L1589.8,456.36 L1590.3,472.62 L1590.8,456.38 L1591.3,473.19 L1591.8,447.63 L1592.3,472.78 L1592.8,459.05 L1593.3,481 L1593.8,459.14 L1594.3,473.28 L1594.8,462.07 L1595.3,474.35 L1595.8,455.24 L1596.3,472.32 L1596.8,460.41 L1597.3,480.32 L1597.8,461.85 L1598.3,475.55 L1598.8,465.46 L1599.3,481 L1599.8,460.55 L1600.3,474.57 L1600.8,456.07 L1601.3,473.68 L1601.8,454.99 L1602.3,475.7 L1602.8,458.91 L1603.3,476.67 L1603.8,460.82 L1604.3,472.96 L1604.8,463.55 L1605.3,480.32 L1605.8,463.77 L1606.3,470.42 L1606.8,462.81 L1607.3,480.29 L1607.8,462.96 L1608.3,471.93 L1608.8,464.92 L1609.3,471.97 L1609.8,460.93 L1610.3,472.57 L1610.8,461.25 L1611.3,474.17 L1611.8,464.24 L1612.3,473.42 L1612.8,462.94 L1613.3,471.83 L1613.8,467.54 L1614.3,468.14 L1614.8,462.76 L1615.3,473.58 L1615.8,461.28 L1616.3,468.26 L1616.8,464.71 L1617.3,472.52 L1617.8,463.64 L1618.3,475.41 L1618.8,460.75 L1619.3,470.8 L1619.8,464.7 L1620.3,472.76 L1620.8,461.21 L1621.3,471.64 L1621.8,463.98 L1622.3,478.4 L1622.8,466.01 L1623.3,471.12 L1623.8,464.18 L1624.3,480.14 L1624.8,464.52 L1625.3,476.51 L1625.8,461.58 L1626.3,473.54 L1626.8,452.89 L1627.3,476.36 L1627.8,456.67 L1628.3,470.11 L1628.8,458.62 L1629.3,475.41 L1629.8,460.28 L1630.3,472.52 L1630.8,460.22 L1631.3,476.4 L1631.8,459.92 L1632.3,471.78 L1632.8,456.81 L1633.3,470.98 L1633.8,461.2 L1634.3,467.62 L1634.8,460.19 L1635.3,470.99 L1635.8,463.6 L1636.3,469.91 L1636.8,461.47 L1637.3,473.4 L1637.8,466.82 L1638.3,473.09 L1638.8,464.85 L1639.3,474.9 L1639.8,463.56 L1640.3,473.86 L1640.8,461.53 L1641.3,471.38 L1641.8,452.52 L1642.3,467.47 L1642.8,464.17 L1643.3,465.19 L1643.8,463.6 L1644.3,475.14 L1644.8,445.02 L1645.3,477.28 L1645.8,449.86 L1646.3,474.37 L1646.8,449.36 L1647.3,474.32 L1647.8,435 L1648.3,476.04 L1648.8,444.8 L1649.3,475.52 L1649.8,446.14 L1650.3,475.69 L1650.8,447.87 L1651.3,476.99 L1651.8,449.39 L1652.3,475.6 L1652.8,452.8 L1653.3,476.08 L1653.8,439.56 L1654.3,476.17 L1654.8,449.87 L1655.3,480.82 L1655.8,452.23 L1656.3,480.81 L1656.8,453.9 L1657.3,474.29 L1657.8,446.14 L1658.3,478.46 L1658.8,451.55 L1659.3,475.41 L1659.8,445.15 L1660.3,473.11 L1660.8,454.71 L1661.3,473.06 L1661.8,458.08 L1662.3,472.33 L1662.8,458.58 L1663.3,471.59 L1663.8,456.94 L1664.3,469.85 L1664.8,445.63 L1665.3,471.72 L1665.8,454.77 L1666.3,474.41 L1666.8,459.08 L1667.3,478.62 L1667.8,454.75 L1668.3,481 L1668.8,458.63 L1669.3,474.78 L1669.8,464.93 L1670.3,474.46 L1670.8,462.66 L1671.3,475.54 L1671.8,461.25 L1672.3,473.35 L1672.8,460.81 L1673.3,472.88 L1673.8,462.69 L1674.3,474.33 L1674.8,460.97 L1675.3,476.25 L1675.8,459.55 L1676.3,477.3 L1676.8,463.84 L1677.3,478.72 L1677.8,464.48 L1678.3,474.54 L1678.8,465.24 L1679.3,474.38 L1679.8,466.61 L1680.3,475.05 L1680.8,459.31 L1681.3,470.62 L1681.8,462.56 L1682.3,472.07 L1682.8,463.34 L1683.3,480.92 L1683.8,459.8 L1684.3,475.04 L1684.8,461.24 L1685.3,471.32 L1685.8,458.61 L1686.3,472.63 L1686.8,461.17 L1687.3,474.01 L1687.8,462 L1688.3,473.87 L1688.8,460.17 L1689.3,478.85 L1689.8,460.57 L1690.3,474.08 L1690.8,466.03 L1691.3,474.73 L1691.8,465.32 L1692.3,474.56 L1692.8,461.89 L1693.3,473.22 L1693.8,461.42 L1694.3,471.88 L1694.8,446.73 L1695.3,471.99 L1695.8,458.49 L1696.3,469.49 L1696.8,462.38 L1697.3,468.51 L1697.8,463.22 L1698.3,469.71 L1698.8,462.41 L1699.3,476.13 L1699.8,460.23 L1700.3,468.78 L1700.8,463.48 L1701.3,467.75 L1701.8,458.26 L1702.3,469.8 L1702.8,458.79 L1703.3,471.03 L1703.8,459.09 L1704.3,477.21 L1704.8,461.57 L1705.3,477.79 L1705.8,463.29 L1706.3,471.47 L1706.8,464.45 L1707.3,469.1 L1707.8,454.33 L1708.3,468.7 L1708.8,463.88 L1709.3,470 L1709.8,466.46 L1710.3,470.46 L1710.8,461.44 L1711.3,471.73 L1711.8,462.53 L1712.3,477.4 L1712.8,461.77 L1713.3,474.09 L1713.8,460.34 L1714.3,472.41 L1714.8,456.73 L1715.3,472.02 L1715.8,459.33 L1716.3,476.16 L1716.8,461.42 L1717.3,472.75 L1717.8,459.73 L1718.3,474.49 L1718.8,453.93 L1719.3,472.88 L1719.8,461.49 L1720.3,468.92 L1720.8,459.59 L1721.3,469.38 L1721.8,459.28 L1722.3,468.19 L1722.8,463.8 L1723.3,471.76 L1723.8,462.86 L1724.3,472.16 L1724.8,463.58 L1725.3,474.08 L1725.8,454.21 L1726.3,472.15 L1726.8,462.88 L1727.3,469.88 L1727.8,451.95 L1728.3,476.36 L1728.8,460.87 L1729.3,478.37 L1729.8,461.32 L1730.3,480.93 L1730.8,460.69 L1731.3,475.26 L1731.8,454.26 L1732.3,473.53 L1732.8,458.86 L1733.3,471.72 L1733.8,459.84 L1734.3,470.61 L1734.8,460.91 L1735.3,470.82 L1735.8,462.38 L1736.3,473.98 L1736.8,460.84 L1737.3,474.69 L1737.8,462.1 L1738.3,474.74 L1738.8,464.23 L1739.3,471.67 L1739.8,460.74 L1740.3,472.59 L1740.8,461.22 L1741.3,472.09 L1741.8,459.3 L1742.3,475.42 L1742.8,457.96 L1743.3,470.85 L1743.8,458.97 L1744.3,469.85 L1744.8,457.78 L1745.3,474.64 L1745.8,457.81 L1746.3,469.98 L1746.8,457.16 L1747.3,467.98 L1747.8,460.52 L1748.3,474.95 L1748.8,460.28 L1749.3,471.86 L1749.8,461.66 L1750.3,473.14 L1750.8,460.69 L1751.3,477.34 L1751.8,462.77 L1752.3,472.72 L1752.8,457.97 L1753.3,481 L1753.8,462.44 L1754.3,471.7 L1754.8,464.22 L1755.3,470.07 L1755.8,463.8 L1756.3,472.8 L1756.8,461.18 L1757.3,472.81 L1757.8,459.71 L1758.3,473.07 L1758.8,462.39 L1759.3,473.82 L1759.8,464.1 L1760.3,473.74 L1760.8,461.97 L1761.3,469.4 L1761.8,453 L1762.3,472.63 L1762.8,462.86 L1763.3,470.63 L1763.8,463.93 L1764.3,470.1 L1764.8,461.69 L1765.3,473.79 L1765.8,459.31 L1766.3,476.72 L1766.8,461.29 L1767.3,476.12 L1767.8,457.8 L1768.3,481 L1768.8,462.7 L1769.3,469.93 L1769.8,459.82 L1770.3,468.68 L1770.8,457.62 L1771.3,472.95 L1771.8,459.05 L1772.3,473.89 L1772.8,463.18 L1773.3,473.74 L1773.8,461.92 L1774.3,473.11 L1774.8,456.42 L1775.3,481 L1775.8,462.63 L1776.3,472.38 L1776.8,458.92 L1777.3,472.5 L1777.8,463.23 L1778.3,479.55 L1778.8,462.78 L1779.3,479.57 L1779.8,463.27 L1780.3,476.12 L1780.8,461.55 L1781.3,475.93 L1781.8,459.67 L1782.3,473.29 L1782.8,447.81 L1783.3,475.39 L1783.8,455.92 L1784.3,473.14 L1784.8,430.81 L1785.3,479.06 L1785.8,438.05 L1786.3,477.14 L1786.8,442.32 L1787.3,477.02 L1787.8,433.48 L1788.3,476.62 L1788.8,450.95 L1789.3,476.31 L1789.8,450.3 L1790.3,481 L1790.8,448.31 L1791.3,476.02 L1791.8,447.84 L1792.3,475.96 L1792.8,451.93 L1793.3,475.52 L1793.8,449.84 L1794.3,476.07 L1794.8,454.7 L1795.3,481 L1795.8,454.37 L1796.3,469.34 L1796.8,455.73 L1797.3,472.74 L1797.8,450.32 L1798.3,472.31 L1798.8,460.08 L1799.3,481 L1799.8,459.68 L1800.3,473.23 L1800.8,460.07 L1801.3,473.75 L1801.8,461.28 L1802.3,475.17 L1802.8,454.45 L1803.3,470.9 L1803.8,454.35 L1804.3,473.88 L1804.8,459.6 L1805.3,472.36 L1805.8,457.87 L1806.3,472.26 L1806.8,455.74 L1807.3,471.64 L1807.8,460.37 L1808.3,471.66 L1808.8,451.46 L1809.3,470.6 L1809.8,456.78 L1810.3,476.71 L1810.8,457.95 L1811.3,474.5 L1811.8,457.5 L1812.3,472.67 L1812.8,458.99 L1813.3,473.97 L1813.8,458.92 L1814.3,472.38 L1814.8,456.39 L1815.3,472.16 L1815.8,457.09 L1816.3,470.9 L1816.8,457.63 L1817.3,475.28 L1817.8,456.36 L1818.3,473 L1818.8,461.17 L1819.3,481 L1819.8,461.96 L1820.3,474.54 L1820.8,462.36 L1821.3,481 L1821.8,461.35 L1822.3,471.05 L1822.8,459.69 L1823.3,470.54 L1823.8,462.9 L1824.3,470.96 L1824.8,460.74 L1825.3,471.47 L1825.8,459.52 L1826.3,470.17 L1826.8,461.75 L1827.3,469.99 L1827.8,458.89 L1828.3,467.83" fill="none" stroke="#000" stroke-width="1.1" stroke-linejoin="bevel"/>
<path d="M1078.3,482 L1078.7,440 L1079.15,300 L1079.45,57.5 L1081.15,57.5 L1081.55,300 L1082.3,440 L1082.9,482 ZM1218.7,482 L1219.1,440 L1219.55,300 L1219.85,61 L1221.55,61 L1221.95,300 L1222.7,440 L1223.3,482 ZM1359,482 L1359.4,440 L1359.85,300 L1360.15,52 L1361.85,52 L1362.25,300 L1363,440 L1363.6,482 ZM1499.7,482 L1500.1,440 L1500.55,300 L1500.85,49.8 L1502.55,49.8 L1502.95,300 L1503.7,440 L1504.3,482 ZM1640.5,482 L1640.9,440 L1641.35,300 L1641.65,48 L1643.35,48 L1643.75,300 L1644.5,440 L1645.1,482 ZM1781.3,482 L1781.7,440 L1782.15,300 L1782.45,47.4 L1784.15,47.4 L1784.55,300 L1785.3,440 L1785.9,482 Z" fill="#000"/>
<rect x="1079.4" y="9.3" width="750.4" height="473.2" fill="none" stroke="#000" stroke-width="2.3"/>
<path d="M1079.4,482.5V489M1173.2,482.5V489M1267,482.5V489M1360.8,482.5V489M1454.6,482.5V489M1548.4,482.5V489M1642.2,482.5V489M1736,482.5V489M1829.8,482.5V489" stroke="#000" stroke-width="1.3" fill="none"/>
<path d="M1072.9,482.5H1079.4M1072.9,403.63H1079.4M1072.9,324.77H1079.4M1072.9,245.9H1079.4M1072.9,167.03H1079.4M1072.9,88.17H1079.4M1072.9,9.3H1079.4" stroke="#000" stroke-width="1.3" fill="none"/>
<text x="1079.4" y="517.9" font-family="'Liberation Sans', Arial, sans-serif" font-size="16.5" font-weight="bold" text-anchor="middle" fill="#000" stroke="#000" stroke-width="0.8">0</text>
<text x="1173.2" y="517.9" font-family="'Liberation Sans', Arial, sans-serif" font-size="16.5" font-weight="bold" text-anchor="middle" fill="#000" stroke="#000" stroke-width="0.8">50</text>
<text x="1267" y="517.9" font-family="'Liberation Sans', Arial, sans-serif" font-size="16.5" font-weight="bold" text-anchor="middle" fill="#000" stroke="#000" stroke-width="0.8">100</text>
<text x="1360.8" y="517.9" font-family="'Liberation Sans', Arial, sans-serif" font-size="16.5" font-weight="bold" text-anchor="middle" fill="#000" stroke="#000" stroke-width="0.8">150</text>
<text x="1454.6" y="517.9" font-family="'Liberation Sans', Arial, sans-serif" font-size="16.5" font-weight="bold" text-anchor="middle" fill="#000" stroke="#000" stroke-width="0.8">200</text>
<text x="1548.4" y="517.9" font-family="'Liberation Sans', Arial, sans-serif" font-size="16.5" font-weight="bold" text-anchor="middle" fill="#000" stroke="#000" stroke-width="0.8">250</text>
<text x="1642.2" y="517.9" font-family="'Liberation Sans', Arial, sans-serif" font-size="16.5" font-weight="bold" text-anchor="middle" fill="#000" stroke="#000" stroke-width="0.8">300</text>
<text x="1736" y="517.9" font-family="'Liberation Sans', Arial, sans-serif" font-size="16.5" font-weight="bold" text-anchor="middle" fill="#000" stroke="#000" stroke-width="0.8">350</text>
<text x="1829.8" y="517.9" font-family="'Liberation Sans', Arial, sans-serif" font-size="16.5" font-weight="bold" text-anchor="middle" fill="#000" stroke="#000" stroke-width="0.8">400</text>
<text x="1063" y="488.7" font-family="'Liberation Sans', Arial, sans-serif" font-size="15.2" font-weight="bold" text-anchor="end" fill="#000" stroke="#000" stroke-width="0.8">0</text>
<text x="1063" y="409.83" font-family="'Liberation Sans', Arial, sans-serif" font-size="15.2" font-weight="bold" text-anchor="end" fill="#000" stroke="#000" stroke-width="0.8">0.2</text>
<text x="1063" y="330.97" font-family="'Liberation Sans', Arial, sans-serif" font-size="15.2" font-weight="bold" text-anchor="end" fill="#000" stroke="#000" stroke-width="0.8">0.4</text>
<text x="1063" y="252.1" font-family="'Liberation Sans', Arial, sans-serif" font-size="15.2" font-weight="bold" text-anchor="end" fill="#000" stroke="#000" stroke-width="0.8">0.6</text>
<text x="1063" y="173.23" font-family="'Liberation Sans', Arial, sans-serif" font-size="15.2" font-weight="bold" text-anchor="end" fill="#000" stroke="#000" stroke-width="0.8">0.8</text>
<text x="1063" y="94.37" font-family="'Liberation Sans', Arial, sans-serif" font-size="15.2" font-weight="bold" text-anchor="end" fill="#000" stroke="#000" stroke-width="0.8">1</text>
<text x="1063" y="15.5" font-family="'Liberation Sans', Arial, sans-serif" font-size="15.2" font-weight="bold" text-anchor="end" fill="#000" stroke="#000" stroke-width="0.8">1.2</text>
<text x="1455.6" y="550" font-family="'Liberation Sans', Arial, sans-serif" font-size="17" font-weight="bold" text-anchor="middle" fill="#000" textLength="70.5" lengthAdjust="spacingAndGlyphs" stroke="#000" stroke-width="0.8">Time (ns)</text>
<text transform="translate(1026.9,247) rotate(-90)" x="0" y="0" font-family="'Liberation Sans', Arial, sans-serif" font-size="17" font-weight="bold" text-anchor="middle" stroke="#000" stroke-width="0.8" textLength="109.5" lengthAdjust="spacingAndGlyphs">Intensity (a.u.)</text>
<text x="1124" y="57" font-family="'Liberation Serif', 'Times New Roman', serif" font-size="32" font-weight="normal" text-anchor="start" fill="#ececec" textLength="33" lengthAdjust="spacingAndGlyphs">(b)</text>
<text x="1100" y="50.2" font-family="'Liberation Serif', 'Times New Roman', serif" font-size="32.5" font-weight="normal" text-anchor="start" fill="#000" textLength="35" lengthAdjust="spacingAndGlyphs">(b)</text>
<path d="M1384,80.8 H1476" stroke="#000" stroke-width="4.2"/>
<path d="M1364.7,80.8 L1386.3,70.2 L1386.3,91.4 Z" fill="#000"/>
<path d="M1494.7,80.8 L1473.1,70.2 L1473.1,91.4 Z" fill="#000"/>
<text x="1385.9" y="54.9" font-family="'Liberation Serif', 'Times New Roman', serif" font-size="35.5" font-weight="normal" text-anchor="start" fill="#000" textLength="77.3" lengthAdjust="spacingAndGlyphs">75 ns</text>
<path d="M76.9,1071.1 L77.9,1071.1 L78.9,1071.1 L79.9,1071.1 L80.9,1071.1 L81.9,1071.1 L82.9,1071.1 L83.9,1071.1 L84.9,1071.1 L85.9,1071.1 L86.9,1071.1 L87.9,1071.1 L88.9,1071.1 L89.9,1071.1 L90.9,1071.1 L91.9,1071.1 L92.9,1071.1 L93.9,1071.1 L94.9,1071.1 L95.9,1071.1 L96.9,1071.1 L97.9,1071.1 L98.9,1071.1 L99.9,1071.1 L100.9,1071.1 L101.9,1071.1 L102.9,1071.1 L103.9,1071.1 L104.9,1071.1 L105.9,1071.1 L106.9,1071.09 L107.9,1071.09 L108.9,1071.09 L109.9,1071.09 L110.9,1071.09 L111.9,1071.09 L112.9,1071.09 L113.9,1071.09 L114.9,1071.09 L115.9,1071.09 L116.9,1071.09 L117.9,1071.09 L118.9,1071.09 L119.9,1071.09 L120.9,1071.09 L121.9,1071.08 L122.9,1071.08 L123.9,1071.08 L124.9,1071.08 L125.9,1071.08 L126.9,1071.08 L127.9,1071.08 L128.9,1071.08 L129.9,1071.07 L130.9,1071.07 L131.9,1071.07 L132.9,1071.07 L133.9,1071.07 L134.9,1071.06 L135.9,1071.06 L136.9,1071.06 L137.9,1071.06 L138.9,1071.05 L139.9,1071.05 L140.9,1071.05 L141.9,1071.05 L142.9,1071.04 L143.9,1071.04 L144.9,1071.03 L145.9,1071.03 L146.9,1071.03 L147.9,1071.02 L148.9,1071.02 L149.9,1071.01 L150.9,1071.01 L151.9,1071 L152.9,1070.99 L153.9,1070.99 L154.9,1070.98 L155.9,1070.97 L156.9,1070.97 L157.9,1070.96 L158.9,1070.95 L159.9,1070.94 L160.9,1070.93 L161.9,1070.92 L162.9,1070.91 L163.9,1070.9 L164.9,1070.89 L165.9,1070.88 L166.9,1070.86 L167.9,1070.85 L168.9,1070.83 L169.9,1070.82 L170.9,1070.8 L171.9,1070.79 L172.9,1070.77 L173.9,1070.75 L174.9,1070.73 L175.9,1070.71 L176.9,1070.69 L177.9,1070.67 L178.9,1070.65 L179.9,1070.62 L180.9,1070.6 L181.9,1070.57 L182.9,1070.54 L183.9,1070.51 L184.9,1070.48 L185.9,1070.45 L186.9,1070.41 L187.9,1070.38 L188.9,1070.34 L189.9,1070.3 L190.9,1070.26 L191.9,1070.22 L192.9,1070.17 L193.9,1070.13 L194.9,1070.08 L195.9,1070.03 L196.9,1069.97 L197.9,1069.92 L198.9,1069.86 L199.9,1069.8 L200.9,1069.74 L201.9,1069.67 L202.9,1069.6 L203.9,1069.53 L204.9,1069.45 L205.9,1069.38 L206.9,1069.29 L207.9,1069.21 L208.9,1069.12 L209.9,1069.03 L210.9,1068.93 L211.9,1068.83 L212.9,1068.73 L213.9,1068.62 L214.9,1068.51 L215.9,1068.39 L216.9,1068.27 L217.9,1068.15 L218.9,1068.02 L219.9,1067.88 L220.9,1067.74 L221.9,1067.59 L222.9,1067.44 L223.9,1067.28 L224.9,1067.12 L225.9,1066.95 L226.9,1066.77 L227.9,1066.59 L228.9,1066.4 L229.9,1066.21 L230.9,1066 L231.9,1065.79 L232.9,1065.57 L233.9,1065.35 L234.9,1065.12 L235.9,1064.87 L236.9,1064.62 L237.9,1064.37 L238.9,1064.1 L239.9,1063.82 L240.9,1063.54 L241.9,1063.24 L242.9,1062.94 L243.9,1062.62 L244.9,1062.3 L245.9,1061.96 L246.9,1061.61 L247.9,1061.26 L248.9,1060.89 L249.9,1060.51 L250.9,1060.12 L251.9,1059.71 L252.9,1059.3 L253.9,1058.87 L254.9,1058.43 L255.9,1057.97 L256.9,1057.5 L257.9,1057.02 L258.9,1056.52 L259.9,1056.01 L260.9,1055.49 L261.9,1054.95 L262.9,1054.39 L263.9,1053.82 L264.9,1053.23 L265.9,1052.63 L266.9,1052.01 L267.9,1051.37 L268.9,1050.72 L269.9,1050.05 L270.9,1049.36 L271.9,1048.65 L272.9,1047.93 L273.9,1047.19 L274.9,1046.42 L275.9,1045.64 L276.9,1044.84 L277.9,1044.02 L278.9,1043.18 L279.9,1042.32 L280.9,1041.44 L281.9,1040.54 L282.9,1039.61 L283.9,1038.67 L284.9,1037.7 L285.9,1036.71 L286.9,1035.7 L287.9,1034.67 L288.9,1033.62 L289.9,1032.54 L290.9,1031.43 L291.9,1030.31 L292.9,1029.16 L293.9,1027.99 L294.9,1026.79 L295.9,1025.57 L296.9,1024.32 L297.9,1023.05 L298.9,1021.75 L299.9,1020.43 L300.9,1019.08 L301.9,1017.71 L302.9,1016.31 L303.9,1014.88 L304.9,1013.43 L305.9,1011.96 L306.9,1010.45 L307.9,1008.92 L308.9,1007.37 L309.9,1005.78 L310.9,1004.17 L311.9,1002.54 L312.9,1000.87 L313.9,999.18 L314.9,997.47 L315.9,995.72 L316.9,993.95 L317.9,992.15 L318.9,990.32 L319.9,988.47 L320.9,986.59 L321.9,984.69 L322.9,982.75 L323.9,980.79 L324.9,978.8 L325.9,976.79 L326.9,974.75 L327.9,972.68 L328.9,970.59 L329.9,968.47 L330.9,966.33 L331.9,964.16 L332.9,961.96 L333.9,959.74 L334.9,957.49 L335.9,955.22 L336.9,952.93 L337.9,950.61 L338.9,948.26 L339.9,945.9 L340.9,943.51 L341.9,941.09 L342.9,938.66 L343.9,936.2 L344.9,933.72 L345.9,931.22 L346.9,928.69 L347.9,926.17 L348.9,923.75 L349.9,921.31 L350.9,918.85 L351.9,916.38 L352.9,913.88 L353.9,911.37 L354.9,908.84 L355.9,906.29 L356.9,903.73 L357.9,901.15 L358.9,898.55 L359.9,895.94 L360.9,893.31 L361.9,890.67 L362.9,888.01 L363.9,885.35 L364.9,882.66 L365.9,879.97 L366.9,877.27 L367.9,874.55 L368.9,871.82 L369.9,869.09 L370.9,866.34 L371.9,863.59 L372.9,860.82 L373.9,858.05 L374.9,855.28 L375.9,852.5 L376.9,849.71 L377.9,846.92 L378.9,844.12 L379.9,841.33 L380.9,838.53 L381.9,835.72 L382.9,832.92 L383.9,830.12 L384.9,827.32 L385.9,824.52 L386.9,821.72 L387.9,818.92 L388.9,816.13 L389.9,813.35 L390.9,810.57 L391.9,807.8 L392.9,805.03 L393.9,802.27 L394.9,799.52 L395.9,796.78 L396.9,794.06 L397.9,791.34 L398.9,788.63 L399.9,785.94 L400.9,783.27 L401.9,780.61 L402.9,777.96 L403.9,775.33 L404.9,772.72 L405.9,770.13 L406.9,767.56 L407.9,765.01 L408.9,762.48 L409.9,759.97 L410.9,757.48 L411.9,755.02 L412.9,752.59 L413.9,750.18 L414.9,747.79 L415.9,745.43 L416.9,743.11 L417.9,740.81 L418.9,738.54 L419.9,736.3 L420.9,734.09 L421.9,731.92 L422.9,729.78 L423.9,727.67 L424.9,725.6 L425.9,723.56 L426.9,721.56 L427.9,719.6 L428.9,717.68 L429.9,715.79 L430.9,713.94 L431.9,712.14 L432.9,710.37 L433.9,708.65 L434.9,706.96 L435.9,705.33 L436.9,703.73 L437.9,702.18 L438.9,700.67 L439.9,699.21 L440.9,697.8 L441.9,696.43 L442.9,695.11 L443.9,693.83 L444.9,692.61 L445.9,691.43 L446.9,690.3 L447.9,689.23 L448.9,688.2 L449.9,687.22 L450.9,686.29 L451.9,685.42 L452.9,684.59 L453.9,683.82 L454.9,683.1 L455.9,682.43 L456.9,681.82 L457.9,681.26 L458.9,680.75 L459.9,680.29 L460.9,679.89 L461.9,679.55 L462.9,679.25 L463.9,679.01 L464.9,678.83 L465.9,678.7 L466.9,678.62 L467.9,678.6 L468.9,678.63 L469.9,678.72 L470.9,678.86 L471.9,679.06 L472.9,679.31 L473.9,679.61 L474.9,679.97 L475.9,680.38 L476.9,680.85 L477.9,681.36 L478.9,681.94 L479.9,682.56 L480.9,683.24 L481.9,683.97 L482.9,684.75 L483.9,685.59 L484.9,686.47 L485.9,687.41 L486.9,688.4 L487.9,689.44 L488.9,690.52 L489.9,691.66 L490.9,692.85 L491.9,694.08 L492.9,695.37 L493.9,696.7 L494.9,698.08 L495.9,699.5 L496.9,700.97 L497.9,702.49 L498.9,704.05 L499.9,705.65 L500.9,707.3 L501.9,708.99 L502.9,710.72 L503.9,712.49 L504.9,714.31 L505.9,716.16 L506.9,718.06 L507.9,719.99 L508.9,721.96 L509.9,723.97 L510.9,726.01 L511.9,728.09 L512.9,730.2 L513.9,732.35 L514.9,734.53 L515.9,736.74 L516.9,738.99 L517.9,741.26 L518.9,743.57 L519.9,745.9 L520.9,748.27 L521.9,750.66 L522.9,753.07 L523.9,755.51 L524.9,757.98 L525.9,760.47 L526.9,762.98 L527.9,765.52 L528.9,768.07 L529.9,770.65 L530.9,773.24 L531.9,775.86 L532.9,778.49 L533.9,781.14 L534.9,783.8 L535.9,786.48 L536.9,789.17 L537.9,791.88 L538.9,794.6 L539.9,797.33 L540.9,800.07 L541.9,802.82 L542.9,805.58 L543.9,808.35 L544.9,811.12 L545.9,813.91 L546.9,816.69 L547.9,819.48 L548.9,822.28 L549.9,825.08 L550.9,827.88 L551.9,830.68 L552.9,833.48 L553.9,836.28 L554.9,839.09 L555.9,841.89 L556.9,844.68 L557.9,847.48 L558.9,850.27 L559.9,853.05 L560.9,855.83 L561.9,858.61 L562.9,861.38 L563.9,864.14 L564.9,866.89 L565.9,869.63 L566.9,872.37 L567.9,875.09 L568.9,877.81 L569.9,880.51 L570.9,883.2 L571.9,885.88 L572.9,888.55 L573.9,891.2 L574.9,893.84 L575.9,896.46 L576.9,899.07 L577.9,901.66 L578.9,904.24 L579.9,906.8 L580.9,909.35 L581.9,911.87 L582.9,914.38 L583.9,916.87 L584.9,919.35 L585.9,921.8 L586.9,924.23 L587.9,926.66 L588.9,929.2 L589.9,931.72 L590.9,934.22 L591.9,936.69 L592.9,939.15 L593.9,941.58 L594.9,943.99 L595.9,946.37 L596.9,948.73 L597.9,951.07 L598.9,953.39 L599.9,955.68 L600.9,957.94 L601.9,960.19 L602.9,962.4 L603.9,964.59 L604.9,966.76 L605.9,968.9 L606.9,971.01 L607.9,973.1 L608.9,975.16 L609.9,977.2 L610.9,979.2 L611.9,981.19 L612.9,983.14 L613.9,985.07 L614.9,986.97 L615.9,988.84 L616.9,990.69 L617.9,992.51 L618.9,994.31 L619.9,996.07 L620.9,997.81 L621.9,999.52 L622.9,1001.21 L623.9,1002.87 L624.9,1004.5 L625.9,1006.1 L626.9,1007.68 L627.9,1009.23 L628.9,1010.76 L629.9,1012.25 L630.9,1013.73 L631.9,1015.17 L632.9,1016.59 L633.9,1017.98 L634.9,1019.35 L635.9,1020.69 L636.9,1022.01 L637.9,1023.3 L638.9,1024.57 L639.9,1025.81 L640.9,1027.03 L641.9,1028.22 L642.9,1029.39 L643.9,1030.54 L644.9,1031.66 L645.9,1032.75 L646.9,1033.83 L647.9,1034.88 L648.9,1035.91 L649.9,1036.91 L650.9,1037.9 L651.9,1038.86 L652.9,1039.8 L653.9,1040.72 L654.9,1041.62 L655.9,1042.49 L656.9,1043.35 L657.9,1044.19 L658.9,1045 L659.9,1045.8 L660.9,1046.58 L661.9,1047.34 L662.9,1048.07 L663.9,1048.8 L664.9,1049.5 L665.9,1050.18 L666.9,1050.85 L667.9,1051.5 L668.9,1052.13 L669.9,1052.75 L670.9,1053.35 L671.9,1053.93 L672.9,1054.5 L673.9,1055.05 L674.9,1055.59 L675.9,1056.11 L676.9,1056.62 L677.9,1057.12 L678.9,1057.6 L679.9,1058.06 L680.9,1058.51 L681.9,1058.95 L682.9,1059.38 L683.9,1059.79 L684.9,1060.2 L685.9,1060.59 L686.9,1060.96 L687.9,1061.33 L688.9,1061.69 L689.9,1062.03 L690.9,1062.36 L691.9,1062.69 L692.9,1063 L693.9,1063.3 L694.9,1063.59 L695.9,1063.88 L696.9,1064.15 L697.9,1064.42 L698.9,1064.67 L699.9,1064.92 L700.9,1065.16 L701.9,1065.39 L702.9,1065.62 L703.9,1065.84 L704.9,1066.04 L705.9,1066.25 L706.9,1066.44 L707.9,1066.63 L708.9,1066.81 L709.9,1066.98 L710.9,1067.15 L711.9,1067.32 L712.9,1067.47 L713.9,1067.62 L714.9,1067.77 L715.9,1067.91 L716.9,1068.04 L717.9,1068.17 L718.9,1068.3 L719.9,1068.42 L720.9,1068.53 L721.9,1068.65 L722.9,1068.75 L723.9,1068.85 L724.9,1068.95 L725.9,1069.05 L726.9,1069.14 L727.9,1069.23 L728.9,1069.31 L729.9,1069.39 L730.9,1069.47 L731.9,1069.54 L732.9,1069.61 L733.9,1069.68 L734.9,1069.75 L735.9,1069.81 L736.9,1069.87 L737.9,1069.93 L738.9,1069.98 L739.9,1070.04 L740.9,1070.09 L741.9,1070.14 L742.9,1070.18 L743.9,1070.23 L744.9,1070.27 L745.9,1070.31 L746.9,1070.35 L747.9,1070.38 L748.9,1070.42 L749.9,1070.45 L750.9,1070.49 L751.9,1070.52 L752.9,1070.55 L753.9,1070.57 L754.9,1070.6 L755.9,1070.63 L756.9,1070.65 L757.9,1070.67 L758.9,1070.7 L759.9,1070.72 L760.9,1070.74 L761.9,1070.76 L762.9,1070.77 L763.9,1070.79 L764.9,1070.81 L765.9,1070.82 L766.9,1070.84 L767.9,1070.85 L768.9,1070.86 L769.9,1070.88 L770.9,1070.89 L771.9,1070.9 L772.9,1070.91 L773.9,1070.92 L774.9,1070.93 L775.9,1070.94 L776.9,1070.95 L777.9,1070.96 L778.9,1070.97 L779.9,1070.97 L780.9,1070.98 L781.9,1070.99 L782.9,1070.99 L783.9,1071 L784.9,1071.01 L785.9,1071.01 L786.9,1071.02 L787.9,1071.02 L788.9,1071.03 L789.9,1071.03 L790.9,1071.03 L791.9,1071.04 L792.9,1071.04 L793.9,1071.05 L794.9,1071.05 L795.9,1071.05 L796.9,1071.06 L797.9,1071.06 L798.9,1071.06 L799.9,1071.06 L800.9,1071.07 L801.9,1071.07 L802.9,1071.07 L803.9,1071.07 L804.9,1071.07 L805.9,1071.07 L806.9,1071.08 L807.9,1071.08 L808.9,1071.08 L809.9,1071.08 L810.9,1071.08 L811.9,1071.08 L812.9,1071.08 L813.9,1071.09 L814.9,1071.09 L815.9,1071.09 L816.9,1071.09 L817.9,1071.09 L818.9,1071.09 L819.9,1071.09 L820.9,1071.09 L821.9,1071.09 L822.9,1071.09 L823.9,1071.09 L824.9,1071.09 L825.9,1071.09 L826.9,1071.09 L827.9,1071.09 L828.9,1071.09 L829.9,1071.1 L830.9,1071.1 L831.9,1071.1 L832.9,1071.1 L833.9,1071.1 L834.9,1071.1 L835.9,1071.1 L836.9,1071.1 L837.9,1071.1 L838.9,1071.1 L839.9,1071.1 L840.9,1071.1 L841.9,1071.1 L842.9,1071.1 L843.9,1071.1 L844.9,1071.1 L845.9,1071.1 L846.9,1071.1 L847.9,1071.1 L848.9,1071.1 L849.9,1071.1 L850.9,1071.1 L851.9,1071.1 L852.9,1071.1 L853.9,1071.1 L854.9,1071.1 L855.9,1071.1 L856.9,1071.1 L857.9,1071.1 L858.9,1071.1 L859.9,1071.1 L860.9,1071.1 L861.9,1071.1 L862.9,1071.1 L863.9,1071.1 L864.9,1071.1 L865.9,1071.1 L866.9,1071.1 L867.9,1071.1 L868.9,1071.1 L869.9,1071.1 L870.9,1071.1 L871.9,1071.1 L872.9,1071.1 L873.9,1071.1 L874.9,1071.1 L875.9,1071.1 L876.9,1071.1 L877.9,1071.1 L878.9,1071.1 L879.9,1071.1 L880.9,1071.1 L881.9,1071.1 L882.9,1071.1 L883.9,1071.1 L884.9,1071.1 L885.9,1071.1 L886.9,1071.1 L887.9,1071.1 L888.9,1071.1 L889.9,1071.1 L890.9,1071.1 L891.9,1071.1 L892.9,1071.1 L893.9,1071.1 L894.9,1071.1 L895.9,1071.1 L896.9,1071.1 L897.9,1071.1 L898.9,1071.1 L899.9,1071.1 L900.9,1071.1 L901.9,1071.1 L902.9,1071.1 L903.9,1071.1 L904.9,1071.1 L905.9,1071.1 L906.9,1071.1 L907.9,1071.1" fill="none" stroke="#000" stroke-width="1.25"/>
<path d="M77.4,1066.33l3.3,2.9l-3.3,2.9l-3.3,-2.9zM80.75,1066.24l3.3,2.9l-3.3,2.9l-3.3,-2.9zM84.1,1066.14l3.3,2.9l-3.3,2.9l-3.3,-2.9zM87.45,1066.03l3.3,2.9l-3.3,2.9l-3.3,-2.9zM90.8,1065.92l3.3,2.9l-3.3,2.9l-3.3,-2.9zM94.15,1065.79l3.3,2.9l-3.3,2.9l-3.3,-2.9zM97.5,1065.67l3.3,2.9l-3.3,2.9l-3.3,-2.9zM100.85,1065.53l3.3,2.9l-3.3,2.9l-3.3,-2.9zM104.2,1065.39l3.3,2.9l-3.3,2.9l-3.3,-2.9zM107.55,1065.24l3.3,2.9l-3.3,2.9l-3.3,-2.9zM110.9,1065.07l3.3,2.9l-3.3,2.9l-3.3,-2.9zM114.25,1064.9l3.3,2.9l-3.3,2.9l-3.3,-2.9zM117.6,1064.72l3.3,2.9l-3.3,2.9l-3.3,-2.9zM120.95,1064.53l3.3,2.9l-3.3,2.9l-3.3,-2.9zM124.3,1064.33l3.3,2.9l-3.3,2.9l-3.3,-2.9zM127.65,1064.11l3.3,2.9l-3.3,2.9l-3.3,-2.9zM131,1063.88l3.3,2.9l-3.3,2.9l-3.3,-2.9zM134.35,1063.64l3.3,2.9l-3.3,2.9l-3.3,-2.9zM137.7,1063.38l3.3,2.9l-3.3,2.9l-3.3,-2.9zM141.05,1063.11l3.3,2.9l-3.3,2.9l-3.3,-2.9zM144.4,1062.82l3.3,2.9l-3.3,2.9l-3.3,-2.9zM147.75,1062.51l3.3,2.9l-3.3,2.9l-3.3,-2.9zM151.1,1062.18l3.3,2.9l-3.3,2.9l-3.3,-2.9zM154.45,1061.84l3.3,2.9l-3.3,2.9l-3.3,-2.9zM157.8,1061.47l3.3,2.9l-3.3,2.9l-3.3,-2.9zM161.15,1061.09l3.3,2.9l-3.3,2.9l-3.3,-2.9zM164.5,1060.68l3.3,2.9l-3.3,2.9l-3.3,-2.9zM167.85,1060.24l3.3,2.9l-3.3,2.9l-3.3,-2.9zM171.2,1059.78l3.3,2.9l-3.3,2.9l-3.3,-2.9zM174.55,1059.29l3.3,2.9l-3.3,2.9l-3.3,-2.9zM177.9,1058.77l3.3,2.9l-3.3,2.9l-3.3,-2.9zM181.25,1058.23l3.3,2.9l-3.3,2.9l-3.3,-2.9zM184.6,1057.65l3.3,2.9l-3.3,2.9l-3.3,-2.9zM187.95,1057.03l3.3,2.9l-3.3,2.9l-3.3,-2.9zM191.3,1056.38l3.3,2.9l-3.3,2.9l-3.3,-2.9zM194.65,1055.69l3.3,2.9l-3.3,2.9l-3.3,-2.9zM198,1054.96l3.3,2.9l-3.3,2.9l-3.3,-2.9zM201.35,1054.19l3.3,2.9l-3.3,2.9l-3.3,-2.9zM204.7,1053.37l3.3,2.9l-3.3,2.9l-3.3,-2.9zM208.05,1052.5l3.3,2.9l-3.3,2.9l-3.3,-2.9zM211.4,1051.59l3.3,2.9l-3.3,2.9l-3.3,-2.9zM214.75,1050.62l3.3,2.9l-3.3,2.9l-3.3,-2.9zM218.1,1049.59l3.3,2.9l-3.3,2.9l-3.3,-2.9zM221.45,1048.5l3.3,2.9l-3.3,2.9l-3.3,-2.9zM224.8,1047.36l3.3,2.9l-3.3,2.9l-3.3,-2.9zM228.15,1046.14l3.3,2.9l-3.3,2.9l-3.3,-2.9zM231.5,1044.86l3.3,2.9l-3.3,2.9l-3.3,-2.9zM234.85,1043.5l3.3,2.9l-3.3,2.9l-3.3,-2.9zM238.2,1042.07l3.3,2.9l-3.3,2.9l-3.3,-2.9zM241.55,1040.55l3.3,2.9l-3.3,2.9l-3.3,-2.9zM244.9,1038.95l3.3,2.9l-3.3,2.9l-3.3,-2.9zM248.25,1037.26l3.3,2.9l-3.3,2.9l-3.3,-2.9zM251.6,1035.48l3.3,2.9l-3.3,2.9l-3.3,-2.9zM254.95,1033.6l3.3,2.9l-3.3,2.9l-3.3,-2.9zM258.3,1031.61l3.3,2.9l-3.3,2.9l-3.3,-2.9zM261.65,1029.51l3.3,2.9l-3.3,2.9l-3.3,-2.9zM265,1027.3l3.3,2.9l-3.3,2.9l-3.3,-2.9zM268.35,1024.98l3.3,2.9l-3.3,2.9l-3.3,-2.9zM271.7,1022.52l3.3,2.9l-3.3,2.9l-3.3,-2.9zM275.05,1019.94l3.3,2.9l-3.3,2.9l-3.3,-2.9zM278.4,1017.22l3.3,2.9l-3.3,2.9l-3.3,-2.9zM281.75,1014.35l3.3,2.9l-3.3,2.9l-3.3,-2.9zM285.1,1011.34l3.3,2.9l-3.3,2.9l-3.3,-2.9zM288.45,1008.18l3.3,2.9l-3.3,2.9l-3.3,-2.9zM291.8,1004.85l3.3,2.9l-3.3,2.9l-3.3,-2.9zM295.15,1001.36l3.3,2.9l-3.3,2.9l-3.3,-2.9zM298.5,997.69l3.3,2.9l-3.3,2.9l-3.3,-2.9zM301.85,993.85l3.3,2.9l-3.3,2.9l-3.3,-2.9zM305.2,989.82l3.3,2.9l-3.3,2.9l-3.3,-2.9zM308.55,985.6l3.3,2.9l-3.3,2.9l-3.3,-2.9zM311.9,981.18l3.3,2.9l-3.3,2.9l-3.3,-2.9zM315.25,976.57l3.3,2.9l-3.3,2.9l-3.3,-2.9zM318.6,971.74l3.3,2.9l-3.3,2.9l-3.3,-2.9zM321.95,966.71l3.3,2.9l-3.3,2.9l-3.3,-2.9zM325.3,961.46l3.3,2.9l-3.3,2.9l-3.3,-2.9zM328.65,955.99l3.3,2.9l-3.3,2.9l-3.3,-2.9zM332,950.3l3.3,2.9l-3.3,2.9l-3.3,-2.9zM335.35,944.38l3.3,2.9l-3.3,2.9l-3.3,-2.9zM338.7,938.24l3.3,2.9l-3.3,2.9l-3.3,-2.9zM342.05,931.87l3.3,2.9l-3.3,2.9l-3.3,-2.9zM345.4,925.27l3.3,2.9l-3.3,2.9l-3.3,-2.9zM348.75,918.45l3.3,2.9l-3.3,2.9l-3.3,-2.9zM352.1,911.41l3.3,2.9l-3.3,2.9l-3.3,-2.9zM355.45,904.15l3.3,2.9l-3.3,2.9l-3.3,-2.9zM358.8,896.67l3.3,2.9l-3.3,2.9l-3.3,-2.9zM362.15,889l3.3,2.9l-3.3,2.9l-3.3,-2.9zM365.5,881.13l3.3,2.9l-3.3,2.9l-3.3,-2.9zM368.85,873.07l3.3,2.9l-3.3,2.9l-3.3,-2.9zM372.2,864.84l3.3,2.9l-3.3,2.9l-3.3,-2.9zM375.55,856.46l3.3,2.9l-3.3,2.9l-3.3,-2.9zM378.9,847.94l3.3,2.9l-3.3,2.9l-3.3,-2.9zM382.25,839.3l3.3,2.9l-3.3,2.9l-3.3,-2.9zM385.6,830.57l3.3,2.9l-3.3,2.9l-3.3,-2.9zM388.95,821.76l3.3,2.9l-3.3,2.9l-3.3,-2.9zM392.3,812.9l3.3,2.9l-3.3,2.9l-3.3,-2.9zM395.65,804.02l3.3,2.9l-3.3,2.9l-3.3,-2.9zM399,795.16l3.3,2.9l-3.3,2.9l-3.3,-2.9zM402.35,786.34l3.3,2.9l-3.3,2.9l-3.3,-2.9zM405.7,777.6l3.3,2.9l-3.3,2.9l-3.3,-2.9zM409.05,768.98l3.3,2.9l-3.3,2.9l-3.3,-2.9zM412.4,760.51l3.3,2.9l-3.3,2.9l-3.3,-2.9zM415.75,752.23l3.3,2.9l-3.3,2.9l-3.3,-2.9zM419.1,744.19l3.3,2.9l-3.3,2.9l-3.3,-2.9zM422.45,736.42l3.3,2.9l-3.3,2.9l-3.3,-2.9zM425.8,728.97l3.3,2.9l-3.3,2.9l-3.3,-2.9zM429.15,721.87l3.3,2.9l-3.3,2.9l-3.3,-2.9zM432.5,715.17l3.3,2.9l-3.3,2.9l-3.3,-2.9zM435.85,708.9l3.3,2.9l-3.3,2.9l-3.3,-2.9zM439.2,703.11l3.3,2.9l-3.3,2.9l-3.3,-2.9zM442.55,697.82l3.3,2.9l-3.3,2.9l-3.3,-2.9zM445.9,693.08l3.3,2.9l-3.3,2.9l-3.3,-2.9zM449.25,688.91l3.3,2.9l-3.3,2.9l-3.3,-2.9zM452.6,685.34l3.3,2.9l-3.3,2.9l-3.3,-2.9zM455.95,682.4l3.3,2.9l-3.3,2.9l-3.3,-2.9zM459.3,680.1l3.3,2.9l-3.3,2.9l-3.3,-2.9zM462.65,678.46l3.3,2.9l-3.3,2.9l-3.3,-2.9zM466,677.49l3.3,2.9l-3.3,2.9l-3.3,-2.9zM469.35,677.2l3.3,2.9l-3.3,2.9l-3.3,-2.9zM472.7,677.59l3.3,2.9l-3.3,2.9l-3.3,-2.9zM476.05,678.66l3.3,2.9l-3.3,2.9l-3.3,-2.9zM479.4,680.4l3.3,2.9l-3.3,2.9l-3.3,-2.9zM482.75,682.8l3.3,2.9l-3.3,2.9l-3.3,-2.9zM486.1,685.84l3.3,2.9l-3.3,2.9l-3.3,-2.9zM489.45,689.5l3.3,2.9l-3.3,2.9l-3.3,-2.9zM492.8,693.75l3.3,2.9l-3.3,2.9l-3.3,-2.9zM496.15,698.58l3.3,2.9l-3.3,2.9l-3.3,-2.9zM499.5,703.94l3.3,2.9l-3.3,2.9l-3.3,-2.9zM502.85,709.81l3.3,2.9l-3.3,2.9l-3.3,-2.9zM506.2,716.14l3.3,2.9l-3.3,2.9l-3.3,-2.9zM509.55,722.91l3.3,2.9l-3.3,2.9l-3.3,-2.9zM512.9,730.06l3.3,2.9l-3.3,2.9l-3.3,-2.9zM516.25,737.56l3.3,2.9l-3.3,2.9l-3.3,-2.9zM519.6,745.38l3.3,2.9l-3.3,2.9l-3.3,-2.9zM522.95,753.46l3.3,2.9l-3.3,2.9l-3.3,-2.9zM526.3,761.76l3.3,2.9l-3.3,2.9l-3.3,-2.9zM529.65,770.26l3.3,2.9l-3.3,2.9l-3.3,-2.9zM533,778.9l3.3,2.9l-3.3,2.9l-3.3,-2.9zM536.35,787.65l3.3,2.9l-3.3,2.9l-3.3,-2.9zM539.7,796.48l3.3,2.9l-3.3,2.9l-3.3,-2.9zM543.05,805.35l3.3,2.9l-3.3,2.9l-3.3,-2.9zM546.4,814.22l3.3,2.9l-3.3,2.9l-3.3,-2.9zM549.75,823.07l3.3,2.9l-3.3,2.9l-3.3,-2.9zM553.1,831.87l3.3,2.9l-3.3,2.9l-3.3,-2.9zM556.45,840.6l3.3,2.9l-3.3,2.9l-3.3,-2.9zM559.8,849.22l3.3,2.9l-3.3,2.9l-3.3,-2.9zM563.15,857.72l3.3,2.9l-3.3,2.9l-3.3,-2.9zM566.5,866.08l3.3,2.9l-3.3,2.9l-3.3,-2.9zM569.85,874.28l3.3,2.9l-3.3,2.9l-3.3,-2.9zM573.2,882.31l3.3,2.9l-3.3,2.9l-3.3,-2.9zM576.55,890.16l3.3,2.9l-3.3,2.9l-3.3,-2.9zM579.9,897.8l3.3,2.9l-3.3,2.9l-3.3,-2.9zM583.25,905.24l3.3,2.9l-3.3,2.9l-3.3,-2.9zM586.6,912.47l3.3,2.9l-3.3,2.9l-3.3,-2.9zM589.95,919.48l3.3,2.9l-3.3,2.9l-3.3,-2.9zM593.3,926.27l3.3,2.9l-3.3,2.9l-3.3,-2.9zM596.65,932.83l3.3,2.9l-3.3,2.9l-3.3,-2.9zM600,939.17l3.3,2.9l-3.3,2.9l-3.3,-2.9zM603.35,945.28l3.3,2.9l-3.3,2.9l-3.3,-2.9zM606.7,951.16l3.3,2.9l-3.3,2.9l-3.3,-2.9zM610.05,956.82l3.3,2.9l-3.3,2.9l-3.3,-2.9zM613.4,962.26l3.3,2.9l-3.3,2.9l-3.3,-2.9zM616.75,967.47l3.3,2.9l-3.3,2.9l-3.3,-2.9zM620.1,972.48l3.3,2.9l-3.3,2.9l-3.3,-2.9zM623.45,977.27l3.3,2.9l-3.3,2.9l-3.3,-2.9zM626.8,981.86l3.3,2.9l-3.3,2.9l-3.3,-2.9zM630.15,986.24l3.3,2.9l-3.3,2.9l-3.3,-2.9zM633.5,990.43l3.3,2.9l-3.3,2.9l-3.3,-2.9zM636.85,994.43l3.3,2.9l-3.3,2.9l-3.3,-2.9zM640.2,998.25l3.3,2.9l-3.3,2.9l-3.3,-2.9zM643.55,1001.89l3.3,2.9l-3.3,2.9l-3.3,-2.9zM646.9,1005.36l3.3,2.9l-3.3,2.9l-3.3,-2.9zM650.25,1008.66l3.3,2.9l-3.3,2.9l-3.3,-2.9zM653.6,1011.8l3.3,2.9l-3.3,2.9l-3.3,-2.9zM656.95,1014.79l3.3,2.9l-3.3,2.9l-3.3,-2.9zM660.3,1017.63l3.3,2.9l-3.3,2.9l-3.3,-2.9zM663.65,1020.33l3.3,2.9l-3.3,2.9l-3.3,-2.9zM667,1022.9l3.3,2.9l-3.3,2.9l-3.3,-2.9zM670.35,1025.33l3.3,2.9l-3.3,2.9l-3.3,-2.9zM673.7,1027.64l3.3,2.9l-3.3,2.9l-3.3,-2.9zM677.05,1029.83l3.3,2.9l-3.3,2.9l-3.3,-2.9zM680.4,1031.91l3.3,2.9l-3.3,2.9l-3.3,-2.9zM683.75,1033.88l3.3,2.9l-3.3,2.9l-3.3,-2.9zM687.1,1035.75l3.3,2.9l-3.3,2.9l-3.3,-2.9zM690.45,1037.52l3.3,2.9l-3.3,2.9l-3.3,-2.9zM693.8,1039.2l3.3,2.9l-3.3,2.9l-3.3,-2.9zM697.15,1040.78l3.3,2.9l-3.3,2.9l-3.3,-2.9zM700.5,1042.29l3.3,2.9l-3.3,2.9l-3.3,-2.9zM703.85,1043.71l3.3,2.9l-3.3,2.9l-3.3,-2.9zM707.2,1045.05l3.3,2.9l-3.3,2.9l-3.3,-2.9zM710.55,1046.33l3.3,2.9l-3.3,2.9l-3.3,-2.9zM713.9,1047.53l3.3,2.9l-3.3,2.9l-3.3,-2.9zM717.25,1048.67l3.3,2.9l-3.3,2.9l-3.3,-2.9zM720.6,1049.75l3.3,2.9l-3.3,2.9l-3.3,-2.9zM723.95,1050.76l3.3,2.9l-3.3,2.9l-3.3,-2.9zM727.3,1051.73l3.3,2.9l-3.3,2.9l-3.3,-2.9zM730.65,1052.63l3.3,2.9l-3.3,2.9l-3.3,-2.9zM734,1053.49l3.3,2.9l-3.3,2.9l-3.3,-2.9zM737.35,1054.3l3.3,2.9l-3.3,2.9l-3.3,-2.9zM740.7,1055.07l3.3,2.9l-3.3,2.9l-3.3,-2.9zM744.05,1055.79l3.3,2.9l-3.3,2.9l-3.3,-2.9zM747.4,1056.48l3.3,2.9l-3.3,2.9l-3.3,-2.9zM750.75,1057.12l3.3,2.9l-3.3,2.9l-3.3,-2.9zM754.1,1057.73l3.3,2.9l-3.3,2.9l-3.3,-2.9zM757.45,1058.31l3.3,2.9l-3.3,2.9l-3.3,-2.9zM760.8,1058.85l3.3,2.9l-3.3,2.9l-3.3,-2.9zM764.15,1059.37l3.3,2.9l-3.3,2.9l-3.3,-2.9zM767.5,1059.85l3.3,2.9l-3.3,2.9l-3.3,-2.9zM770.85,1060.31l3.3,2.9l-3.3,2.9l-3.3,-2.9zM774.2,1060.74l3.3,2.9l-3.3,2.9l-3.3,-2.9zM777.55,1061.14l3.3,2.9l-3.3,2.9l-3.3,-2.9zM780.9,1061.53l3.3,2.9l-3.3,2.9l-3.3,-2.9zM784.25,1061.89l3.3,2.9l-3.3,2.9l-3.3,-2.9zM787.6,1062.23l3.3,2.9l-3.3,2.9l-3.3,-2.9zM790.95,1062.56l3.3,2.9l-3.3,2.9l-3.3,-2.9zM794.3,1062.86l3.3,2.9l-3.3,2.9l-3.3,-2.9zM797.65,1063.15l3.3,2.9l-3.3,2.9l-3.3,-2.9zM801,1063.42l3.3,2.9l-3.3,2.9l-3.3,-2.9zM804.35,1063.67l3.3,2.9l-3.3,2.9l-3.3,-2.9zM807.7,1063.91l3.3,2.9l-3.3,2.9l-3.3,-2.9zM811.05,1064.14l3.3,2.9l-3.3,2.9l-3.3,-2.9zM814.4,1064.36l3.3,2.9l-3.3,2.9l-3.3,-2.9zM817.75,1064.56l3.3,2.9l-3.3,2.9l-3.3,-2.9zM821.1,1064.75l3.3,2.9l-3.3,2.9l-3.3,-2.9zM824.45,1064.93l3.3,2.9l-3.3,2.9l-3.3,-2.9zM827.8,1065.1l3.3,2.9l-3.3,2.9l-3.3,-2.9zM831.15,1065.26l3.3,2.9l-3.3,2.9l-3.3,-2.9zM834.5,1065.41l3.3,2.9l-3.3,2.9l-3.3,-2.9zM837.85,1065.55l3.3,2.9l-3.3,2.9l-3.3,-2.9zM841.2,1065.69l3.3,2.9l-3.3,2.9l-3.3,-2.9zM844.55,1065.81l3.3,2.9l-3.3,2.9l-3.3,-2.9zM847.9,1065.93l3.3,2.9l-3.3,2.9l-3.3,-2.9zM851.25,1066.04l3.3,2.9l-3.3,2.9l-3.3,-2.9zM854.6,1066.15l3.3,2.9l-3.3,2.9l-3.3,-2.9zM857.95,1066.25l3.3,2.9l-3.3,2.9l-3.3,-2.9zM861.3,1066.35l3.3,2.9l-3.3,2.9l-3.3,-2.9zM864.65,1066.43l3.3,2.9l-3.3,2.9l-3.3,-2.9zM868,1066.52l3.3,2.9l-3.3,2.9l-3.3,-2.9zM871.35,1066.6l3.3,2.9l-3.3,2.9l-3.3,-2.9zM874.7,1066.67l3.3,2.9l-3.3,2.9l-3.3,-2.9zM878.05,1066.74l3.3,2.9l-3.3,2.9l-3.3,-2.9zM881.4,1066.81l3.3,2.9l-3.3,2.9l-3.3,-2.9zM884.75,1066.87l3.3,2.9l-3.3,2.9l-3.3,-2.9zM888.1,1066.93l3.3,2.9l-3.3,2.9l-3.3,-2.9zM891.45,1066.99l3.3,2.9l-3.3,2.9l-3.3,-2.9zM894.8,1067.04l3.3,2.9l-3.3,2.9l-3.3,-2.9zM898.15,1067.09l3.3,2.9l-3.3,2.9l-3.3,-2.9zM901.5,1067.13l3.3,2.9l-3.3,2.9l-3.3,-2.9zM904.85,1067.18l3.3,2.9l-3.3,2.9l-3.3,-2.9zM908.2,1067.22l3.3,2.9l-3.3,2.9l-3.3,-2.9z" fill="#000" stroke="none"/>
<rect x="75.9" y="600.7" width="833.4" height="471" fill="none" stroke="#000" stroke-width="2.3"/>
<path d="M75.9,1071.7V1078.2M214.8,1071.7V1078.2M353.7,1071.7V1078.2M492.6,1071.7V1078.2M631.5,1071.7V1078.2M770.4,1071.7V1078.2M909.3,1071.7V1078.2" stroke="#000" stroke-width="1.3" fill="none"/>
<path d="M69.4,1071.7H75.9M69.4,993.2H75.9M69.4,914.7H75.9M69.4,836.2H75.9M69.4,757.7H75.9M69.4,679.2H75.9M69.4,600.7H75.9" stroke="#000" stroke-width="1.3" fill="none"/>
<text x="75.9" y="1107" font-family="'Liberation Sans', Arial, sans-serif" font-size="15.5" font-weight="bold" text-anchor="middle" fill="#000" stroke="#000" stroke-width="0.8">-3</text>
<text x="214.8" y="1107" font-family="'Liberation Sans', Arial, sans-serif" font-size="15.5" font-weight="bold" text-anchor="middle" fill="#000" stroke="#000" stroke-width="0.8">-2</text>
<text x="353.7" y="1107" font-family="'Liberation Sans', Arial, sans-serif" font-size="15.5" font-weight="bold" text-anchor="middle" fill="#000" stroke="#000" stroke-width="0.8">-1</text>
<text x="492.6" y="1107" font-family="'Liberation Sans', Arial, sans-serif" font-size="15.5" font-weight="bold" text-anchor="middle" fill="#000" stroke="#000" stroke-width="0.8">0</text>
<text x="631.5" y="1107" font-family="'Liberation Sans', Arial, sans-serif" font-size="15.5" font-weight="bold" text-anchor="middle" fill="#000" stroke="#000" stroke-width="0.8">1</text>
<text x="770.4" y="1107" font-family="'Liberation Sans', Arial, sans-serif" font-size="15.5" font-weight="bold" text-anchor="middle" fill="#000" stroke="#000" stroke-width="0.8">2</text>
<text x="909.3" y="1107" font-family="'Liberation Sans', Arial, sans-serif" font-size="15.5" font-weight="bold" text-anchor="middle" fill="#000" stroke="#000" stroke-width="0.8">3</text>
<text x="57" y="1078.2" font-family="'Liberation Sans', Arial, sans-serif" font-size="15.2" font-weight="bold" text-anchor="end" fill="#000" stroke="#000" stroke-width="0.8">0</text>
<text x="57" y="999.7" font-family="'Liberation Sans', Arial, sans-serif" font-size="15.2" font-weight="bold" text-anchor="end" fill="#000" stroke="#000" stroke-width="0.8">0.2</text>
<text x="57" y="921.2" font-family="'Liberation Sans', Arial, sans-serif" font-size="15.2" font-weight="bold" text-anchor="end" fill="#000" stroke="#000" stroke-width="0.8">0.4</text>
<text x="57" y="842.7" font-family="'Liberation Sans', Arial, sans-serif" font-size="15.2" font-weight="bold" text-anchor="end" fill="#000" stroke="#000" stroke-width="0.8">0.6</text>
<text x="57" y="764.2" font-family="'Liberation Sans', Arial, sans-serif" font-size="15.2" font-weight="bold" text-anchor="end" fill="#000" stroke="#000" stroke-width="0.8">0.8</text>
<text x="57" y="685.7" font-family="'Liberation Sans', Arial, sans-serif" font-size="15.2" font-weight="bold" text-anchor="end" fill="#000" stroke="#000" stroke-width="0.8">1</text>
<text x="57" y="607.2" font-family="'Liberation Sans', Arial, sans-serif" font-size="15.2" font-weight="bold" text-anchor="end" fill="#000" stroke="#000" stroke-width="0.8">1.2</text>
<text x="501.3" y="1136.2" font-family="'Liberation Sans', Arial, sans-serif" font-size="17" font-weight="bold" text-anchor="middle" fill="#000" textLength="127" lengthAdjust="spacingAndGlyphs" stroke="#000" stroke-width="0.8">Time Delay (ps)</text>
<text transform="translate(19,836.5) rotate(-90)" x="0" y="0" font-family="'Liberation Sans', Arial, sans-serif" font-size="17" font-weight="bold" text-anchor="middle" stroke="#000" stroke-width="0.8" textLength="105" lengthAdjust="spacingAndGlyphs">Intensity (a.u)</text>
<text x="118" y="649" font-family="'Liberation Serif', 'Times New Roman', serif" font-size="32" font-weight="normal" text-anchor="start" fill="#ececec" textLength="32" lengthAdjust="spacingAndGlyphs">(c)</text>
<text x="94.2" y="640.6" font-family="'Liberation Serif', 'Times New Roman', serif" font-size="32.5" font-weight="normal" text-anchor="start" fill="#000" textLength="32.5" lengthAdjust="spacingAndGlyphs">(c)</text>
<path d="M698.2,640.4 H726.5" stroke="#000" stroke-width="1.4"/>
<path d="M712.3,662.6 l3.4,3.4 l-3.4,3.4 l-3.4,-3.4z" fill="#000"/>
<text x="728.8" y="646.7" font-family="'Liberation Sans', Arial, sans-serif" font-size="16.5" font-weight="bold" text-anchor="start" fill="#000" textLength="111.2" lengthAdjust="spacingAndGlyphs" stroke="#000" stroke-width="0.8">Sech^2 fitting</text>
<text x="729.9" y="671.6" font-family="'Liberation Sans', Arial, sans-serif" font-size="16.5" font-weight="bold" text-anchor="start" fill="#000" textLength="145.8" lengthAdjust="spacingAndGlyphs" stroke="#000" stroke-width="0.8">Experimental data</text>
<path d="M380,877.1 H550" stroke="#000" stroke-width="3.4"/>
<path d="M361.9,877.1 L382.9,866.6 L382.9,887.6 Z" fill="#000"/>
<path d="M567.4,877.1 L546.4,866.6 L546.4,887.6 Z" fill="#000"/>
<text x="424" y="930.7" font-family="'Liberation Serif', 'Times New Roman', serif" font-size="34" font-weight="normal" text-anchor="start" fill="#ececec" textLength="92" lengthAdjust="spacingAndGlyphs">0.2 ps</text>
<text x="410.9" y="926.5" font-family="'Liberation Serif', 'Times New Roman', serif" font-size="36" font-weight="normal" text-anchor="start" fill="#000" textLength="103.3" lengthAdjust="spacingAndGlyphs">1.35 ps</text>
<path d="M1111.8,1015.41 C1112.32,1015.86 1113.87,1017.6 1114.9,1018.1 C1115.93,1018.59 1116.97,1018.23 1118,1018.37 C1119.03,1018.5 1120.07,1018.94 1121.1,1018.91 C1122.13,1018.88 1123.17,1018.19 1124.2,1018.19 C1125.23,1018.18 1126.27,1019.27 1127.3,1018.85 C1128.33,1018.43 1129.37,1015.91 1130.4,1015.64 C1131.43,1015.37 1132.47,1016.67 1133.5,1017.22 C1134.53,1017.77 1135.57,1018.83 1136.6,1018.95 C1137.63,1019.06 1138.67,1017.92 1139.7,1017.89 C1140.73,1017.87 1141.77,1019.13 1142.8,1018.81 C1143.83,1018.49 1144.87,1016.24 1145.9,1015.98 C1146.93,1015.72 1147.97,1017.19 1149,1017.27 C1150.03,1017.35 1151.07,1016.43 1152.1,1016.47 C1153.13,1016.52 1154.17,1017.35 1155.2,1017.55 C1156.23,1017.75 1157.27,1017.98 1158.3,1017.67 C1159.33,1017.35 1160.37,1015.87 1161.4,1015.66 C1162.43,1015.44 1163.47,1016.23 1164.5,1016.4 C1165.53,1016.56 1166.57,1016.21 1167.6,1016.63 C1168.63,1017.05 1169.67,1018.64 1170.7,1018.93 C1171.73,1019.22 1172.77,1018.85 1173.8,1018.39 C1174.83,1017.94 1175.87,1016.2 1176.9,1016.22 C1177.93,1016.24 1178.97,1018.53 1180,1018.52 C1181.03,1018.51 1182.07,1016.27 1183.1,1016.16 C1184.13,1016.05 1185.17,1017.9 1186.2,1017.89 C1187.23,1017.89 1188.27,1016.5 1189.3,1016.13 C1190.33,1015.76 1191.37,1015.24 1192.4,1015.69 C1193.43,1016.14 1194.47,1018.7 1195.5,1018.83 C1196.53,1018.95 1197.57,1016.84 1198.6,1016.45 C1199.63,1016.06 1200.67,1016.01 1201.7,1016.46 C1202.73,1016.92 1203.77,1018.82 1204.8,1019.21 C1205.83,1019.59 1206.87,1019.21 1207.9,1018.79 C1208.93,1018.37 1209.97,1016.62 1211,1016.67 C1212.03,1016.72 1213.07,1018.93 1214.1,1019.07 C1215.13,1019.21 1216.17,1017.71 1217.2,1017.53 C1218.23,1017.35 1219.27,1018.22 1220.3,1018.01 C1221.33,1017.8 1222.37,1016.14 1223.4,1016.29 C1224.43,1016.44 1225.47,1018.63 1226.5,1018.92 C1227.53,1019.2 1228.57,1017.99 1229.6,1018 C1230.63,1018 1231.67,1018.85 1232.7,1018.97 C1233.73,1019.08 1234.77,1019.09 1235.8,1018.69 C1236.83,1018.28 1237.87,1016.85 1238.9,1016.53 C1239.93,1016.2 1240.97,1016.82 1242,1016.73 C1243.03,1016.64 1244.07,1016.14 1245.1,1016.01 C1246.13,1015.87 1247.17,1015.98 1248.2,1015.91 C1249.23,1015.85 1250.27,1015.52 1251.3,1015.6 C1252.33,1015.69 1253.37,1016.12 1254.4,1016.44 C1255.43,1016.75 1256.47,1017.69 1257.5,1017.5 C1258.53,1017.32 1259.82,1015.39 1260.6,1015.32 C1261.38,1015.26 1261.52,1017.59 1262.2,1017.1 C1262.88,1016.61 1263.93,1012.45 1264.7,1012.4 C1265.47,1012.35 1266.38,1016.07 1266.8,1016.82 C1267.22,1017.57 1266.68,1016.98 1267.2,1016.9 C1267.72,1016.82 1268.93,1016.44 1269.9,1016.33 C1270.87,1016.22 1271.97,1015.96 1273,1016.25 C1274.03,1016.55 1275.07,1017.99 1276.1,1018.1 C1277.13,1018.21 1278.17,1017.2 1279.2,1016.9 C1280.23,1016.61 1281.27,1016.32 1282.3,1016.33 C1283.33,1016.33 1284.37,1016.7 1285.4,1016.94 C1286.43,1017.18 1287.47,1018.01 1288.5,1017.77 C1289.53,1017.52 1290.57,1015.28 1291.6,1015.45 C1292.63,1015.62 1293.67,1018.79 1294.7,1018.78 C1295.73,1018.76 1296.77,1015.5 1297.8,1015.37 C1298.83,1015.24 1299.87,1017.5 1300.9,1018 C1301.93,1018.5 1302.97,1018.8 1304,1018.36 C1305.03,1017.93 1306.07,1015.43 1307.1,1015.41 C1308.13,1015.38 1309.17,1017.98 1310.2,1018.2 C1311.23,1018.41 1312.27,1016.82 1313.3,1016.7 C1314.33,1016.58 1315.37,1017.69 1316.4,1017.48 C1317.43,1017.27 1318.47,1015.76 1319.5,1015.45 C1320.53,1015.14 1321.57,1015.49 1322.6,1015.6 C1323.63,1015.71 1324.67,1015.55 1325.7,1016.1 C1326.73,1016.66 1327.77,1018.9 1328.8,1018.91 C1329.83,1018.93 1330.87,1016.31 1331.9,1016.2 C1332.93,1016.08 1333.97,1017.78 1335,1018.23 C1336.03,1018.68 1337.07,1018.76 1338.1,1018.87 C1339.13,1018.99 1340.17,1019.28 1341.2,1018.94 C1342.23,1018.59 1343.27,1017.15 1344.3,1016.81 C1345.33,1016.46 1346.37,1016.75 1347.4,1016.86 C1348.43,1016.97 1349.47,1017.24 1350.5,1017.48 C1351.53,1017.72 1352.57,1018.58 1353.6,1018.3 C1354.63,1018.02 1355.67,1015.86 1356.7,1015.81 C1357.73,1015.77 1358.77,1017.65 1359.8,1018.04 C1360.83,1018.43 1361.87,1018.09 1362.9,1018.13 C1363.93,1018.17 1364.97,1018.76 1366,1018.28 C1367.03,1017.8 1368.07,1015.21 1369.1,1015.24 C1370.13,1015.26 1371.17,1018.42 1372.2,1018.43 C1373.23,1018.43 1374.27,1015.66 1375.3,1015.27 C1376.33,1014.88 1377.37,1015.8 1378.4,1016.09 C1379.43,1016.37 1380.47,1016.66 1381.5,1016.98 C1382.53,1017.3 1383.57,1018.19 1384.6,1018.01 C1385.63,1017.82 1386.67,1015.87 1387.7,1015.84 C1388.73,1015.82 1389.77,1017.77 1390.8,1017.87 C1391.83,1017.96 1392.87,1016.82 1393.9,1016.42 C1394.93,1016.03 1395.97,1015.67 1397,1015.5 C1398.03,1015.34 1399.07,1015.56 1400.1,1015.43 C1401.13,1015.31 1402.17,1014.96 1403.2,1014.76 C1404.23,1014.56 1405.27,1014.31 1406.3,1014.24 C1407.33,1014.16 1408.37,1014.01 1409.4,1014.32 C1410.43,1014.63 1411.47,1015.64 1412.5,1016.09 C1413.53,1016.55 1414.35,1017.1 1415.6,1017.03 C1416.85,1016.96 1419.27,1015.92 1420,1015.7 L1420,1015.7 C1421.17,1015.12 1425,1012.98 1427,1012.2 C1429,1011.42 1430.13,1011.7 1432,1011 C1433.87,1010.3 1436.53,1008.58 1438.2,1008 C1439.87,1007.42 1440.6,1008.08 1442,1007.5 C1443.4,1006.92 1445.27,1004.5 1446.6,1004.5 C1447.93,1004.5 1448.6,1006.8 1450,1007.5 C1451.4,1008.2 1453.7,1010.13 1455,1008.7 C1456.3,1007.27 1456.97,1000.43 1457.8,998.9 C1458.63,997.37 1459.3,999.27 1460,999.5 C1460.7,999.73 1460.97,1003.9 1462,1000.3 C1463.03,996.7 1465.03,983.97 1466.2,977.9 C1467.37,971.83 1468.32,970.9 1469,963.9 C1469.68,956.9 1469.5,939.4 1470.3,935.9 C1471.1,932.4 1472.75,943.37 1473.8,942.9 C1474.85,942.43 1475.9,937.75 1476.6,933.1 C1477.3,928.45 1477.6,922.18 1478,915 C1478.4,907.82 1478.73,899.17 1479,890 C1479.27,880.83 1479.38,875 1479.6,860 C1479.82,845 1480.08,820 1480.3,800 C1480.52,780 1480.68,756.67 1480.9,740 C1481.12,723.33 1481.37,712.5 1481.6,700 C1481.83,687.5 1482.08,673.67 1482.3,665 C1482.52,656.33 1482.72,651.73 1482.9,648 C1483.08,644.27 1483.22,643.1 1483.4,642.6 C1483.58,642.1 1483.77,642.1 1484,645 C1484.23,647.9 1484.47,650.83 1484.8,660 C1485.13,669.17 1485.63,685 1486,700 C1486.37,715 1486.67,733.33 1487,750 C1487.33,766.67 1487.68,781.67 1488,800 C1488.32,818.33 1488.63,844.17 1488.9,860 C1489.17,875.83 1489.37,885.83 1489.6,895 C1489.83,904.17 1490.02,909.57 1490.3,915 C1490.58,920.43 1489.85,925.38 1491.3,927.6 C1492.75,929.82 1497.48,924.58 1499,928.3 C1500.52,932.02 1499.93,941.63 1500.4,949.9 C1500.87,958.17 1500.98,971.37 1501.8,977.9 C1502.62,984.43 1504.25,985.13 1505.3,989.1 C1506.35,993.07 1507.17,1000.3 1508.1,1001.7 C1509.03,1003.1 1509.97,996.33 1510.9,997.5 C1511.83,998.67 1512.77,1007.53 1513.7,1008.7 C1514.63,1009.87 1515.33,1004.27 1516.5,1004.5 C1517.67,1004.73 1518.83,1008.58 1520.7,1010.1 C1522.57,1011.62 1525.65,1013.2 1527.7,1013.6 C1529.75,1014 1531.13,1012.85 1533,1012.5 C1534.87,1012.15 1536.98,1010.73 1538.9,1011.5 C1540.82,1012.27 1543.1,1016.87 1544.5,1017.1 C1545.9,1017.33 1545.9,1012.78 1547.3,1012.9 C1548.7,1013.02 1550.8,1016.87 1552.9,1017.8 C1555,1018.73 1558.03,1019.55 1559.9,1018.5 C1561.77,1017.45 1562.47,1011.73 1564.1,1011.5 C1565.73,1011.27 1568.08,1016.63 1569.7,1017.1 C1571.32,1017.57 1572.08,1014.4 1573.8,1014.3 C1575.52,1014.2 1578.97,1016.13 1580,1016.5 L1580,1016.5 C1580.37,1016.17 1581.32,1014.88 1582.2,1014.49 C1583.08,1014.1 1584.27,1013.68 1585.3,1014.16 C1586.33,1014.65 1587.37,1017.12 1588.4,1017.41 C1589.43,1017.7 1590.47,1016.24 1591.5,1015.93 C1592.53,1015.62 1593.57,1015.7 1594.6,1015.55 C1595.63,1015.4 1596.67,1014.91 1597.7,1015.04 C1598.73,1015.16 1599.77,1015.95 1600.8,1016.31 C1601.83,1016.66 1602.87,1017.21 1603.9,1017.15 C1604.93,1017.09 1605.97,1016.16 1607,1015.95 C1608.03,1015.74 1609.07,1016.1 1610.1,1015.89 C1611.13,1015.69 1612.17,1014.41 1613.2,1014.71 C1614.23,1015.01 1615.27,1017.68 1616.3,1017.69 C1617.33,1017.69 1618.37,1014.96 1619.4,1014.74 C1620.43,1014.52 1621.47,1015.89 1622.5,1016.37 C1623.53,1016.84 1624.57,1017.78 1625.6,1017.6 C1626.63,1017.41 1627.67,1015.29 1628.7,1015.25 C1629.73,1015.21 1630.77,1016.87 1631.8,1017.35 C1632.83,1017.83 1633.87,1018.19 1634.9,1018.15 C1635.93,1018.11 1636.97,1017.19 1638,1017.12 C1639.03,1017.05 1640.07,1017.99 1641.1,1017.71 C1642.13,1017.44 1643.17,1015.64 1644.2,1015.45 C1645.23,1015.27 1646.27,1016.59 1647.3,1016.63 C1648.33,1016.67 1649.37,1015.47 1650.4,1015.71 C1651.43,1015.95 1652.47,1017.99 1653.5,1018.07 C1654.53,1018.15 1655.57,1016.42 1656.6,1016.2 C1657.63,1015.98 1658.67,1016.34 1659.7,1016.74 C1660.73,1017.14 1661.77,1018.37 1662.8,1018.6 C1663.83,1018.82 1664.87,1018.11 1665.9,1018.1 C1666.93,1018.08 1667.97,1018.74 1669,1018.52 C1670.03,1018.29 1671.07,1017.02 1672.1,1016.74 C1673.13,1016.47 1674.17,1016.7 1675.2,1016.86 C1676.23,1017.02 1677.27,1017.69 1678.3,1017.68 C1679.33,1017.68 1680.37,1017.08 1681.4,1016.83 C1682.43,1016.58 1683.47,1016.23 1684.5,1016.19 C1685.53,1016.15 1686.57,1016.65 1687.6,1016.57 C1688.63,1016.49 1689.67,1015.71 1690.7,1015.7 C1691.73,1015.68 1692.77,1016 1693.8,1016.48 C1694.83,1016.96 1695.87,1018.23 1696.9,1018.56 C1697.93,1018.89 1698.97,1018.67 1700,1018.46 C1701.03,1018.26 1702.07,1017.59 1703.1,1017.33 C1704.13,1017.07 1705.17,1017.06 1706.2,1016.9 C1707.23,1016.73 1708.27,1016.58 1709.3,1016.35 C1710.33,1016.12 1711.37,1015.54 1712.4,1015.5 C1713.43,1015.47 1714.47,1015.73 1715.5,1016.13 C1716.53,1016.52 1717.57,1017.52 1718.6,1017.86 C1719.63,1018.2 1720.97,1018.31 1721.7,1018.15 C1722.43,1017.99 1722.37,1018.11 1723,1016.9 C1723.63,1015.69 1724.68,1010.99 1725.5,1010.9 C1726.32,1010.81 1727.48,1015.35 1727.9,1016.38 C1728.32,1017.41 1727.48,1016.82 1728,1017.1 C1728.52,1017.38 1729.98,1017.92 1731,1018.08 C1732.02,1018.23 1733.07,1018.09 1734.1,1018.04 C1735.13,1017.99 1736.17,1017.84 1737.2,1017.77 C1738.23,1017.71 1739.27,1017.64 1740.3,1017.67 C1741.33,1017.71 1742.37,1018.17 1743.4,1018 C1744.43,1017.84 1745.47,1016.69 1746.5,1016.66 C1747.53,1016.63 1748.57,1017.87 1749.6,1017.83 C1750.63,1017.78 1751.67,1016.51 1752.7,1016.39 C1753.73,1016.27 1754.77,1016.81 1755.8,1017.09 C1756.83,1017.37 1757.87,1017.94 1758.9,1018.06 C1759.93,1018.18 1760.97,1018.06 1762,1017.8 C1763.03,1017.53 1764.07,1016.3 1765.1,1016.45 C1766.13,1016.6 1767.17,1018.47 1768.2,1018.67 C1769.23,1018.87 1770.27,1017.87 1771.3,1017.67 C1772.33,1017.46 1773.37,1017.8 1774.4,1017.44 C1775.43,1017.08 1776.47,1015.53 1777.5,1015.51 C1778.53,1015.49 1779.57,1017.2 1780.6,1017.33 C1781.63,1017.47 1782.67,1016.26 1783.7,1016.33 C1784.73,1016.4 1785.77,1017.64 1786.8,1017.77 C1787.83,1017.89 1788.87,1016.98 1789.9,1017.06 C1790.93,1017.14 1791.97,1018.16 1793,1018.27 C1794.03,1018.37 1795.07,1017.71 1796.1,1017.7 C1797.13,1017.69 1798.17,1018.37 1799.2,1018.21 C1800.23,1018.05 1801.27,1016.79 1802.3,1016.72 C1803.33,1016.65 1804.37,1017.54 1805.4,1017.78 C1806.43,1018.02 1807.47,1018.03 1808.5,1018.16 C1809.53,1018.28 1810.57,1018.72 1811.6,1018.52 C1812.63,1018.31 1813.67,1016.92 1814.7,1016.94 C1815.73,1016.97 1816.77,1018.36 1817.8,1018.67 C1818.83,1018.99 1819.87,1018.89 1820.9,1018.82 C1821.93,1018.75 1822.97,1018.18 1824,1018.25 C1825.03,1018.33 1826.23,1019.41 1827.1,1019.29 C1827.97,1019.16 1828.85,1017.8 1829.2,1017.5" fill="none" stroke="#000" stroke-width="2.9" stroke-linejoin="round"/>
<rect x="1111.3" y="590.2" width="718.5" height="470.2" fill="none" stroke="#000" stroke-width="2.3"/>
<path d="M1111.3,1060.4V1066.9M1213.94,1060.4V1066.9M1316.59,1060.4V1066.9M1419.23,1060.4V1066.9M1521.87,1060.4V1066.9M1624.51,1060.4V1066.9M1727.16,1060.4V1066.9M1829.8,1060.4V1066.9" stroke="#000" stroke-width="1.3" fill="none"/>
<path d="M1104.8,590.2H1111.3M1104.8,637.22H1111.3M1104.8,684.24H1111.3M1104.8,731.26H1111.3M1104.8,778.28H1111.3M1104.8,825.3H1111.3M1104.8,872.32H1111.3M1104.8,919.34H1111.3M1104.8,966.36H1111.3M1104.8,1013.38H1111.3M1104.8,1060.4H1111.3" stroke="#000" stroke-width="1.3" fill="none"/>
<text x="1111.3" y="1098.9" font-family="'Liberation Sans', Arial, sans-serif" font-size="16.5" font-weight="bold" text-anchor="middle" fill="#000" textLength="33" lengthAdjust="spacingAndGlyphs" stroke="#000" stroke-width="0.8">13.0</text>
<text x="1213.94" y="1098.9" font-family="'Liberation Sans', Arial, sans-serif" font-size="16.5" font-weight="bold" text-anchor="middle" fill="#000" textLength="33" lengthAdjust="spacingAndGlyphs" stroke="#000" stroke-width="0.8">13.1</text>
<text x="1316.59" y="1098.9" font-family="'Liberation Sans', Arial, sans-serif" font-size="16.5" font-weight="bold" text-anchor="middle" fill="#000" textLength="33" lengthAdjust="spacingAndGlyphs" stroke="#000" stroke-width="0.8">13.2</text>
<text x="1419.23" y="1098.9" font-family="'Liberation Sans', Arial, sans-serif" font-size="16.5" font-weight="bold" text-anchor="middle" fill="#000" textLength="33" lengthAdjust="spacingAndGlyphs" stroke="#000" stroke-width="0.8">13.3</text>
<text x="1521.87" y="1098.9" font-family="'Liberation Sans', Arial, sans-serif" font-size="16.5" font-weight="bold" text-anchor="middle" fill="#000" textLength="33" lengthAdjust="spacingAndGlyphs" stroke="#000" stroke-width="0.8">13.4</text>
<text x="1624.51" y="1098.9" font-family="'Liberation Sans', Arial, sans-serif" font-size="16.5" font-weight="bold" text-anchor="middle" fill="#000" textLength="33" lengthAdjust="spacingAndGlyphs" stroke="#000" stroke-width="0.8">13.5</text>
<text x="1727.16" y="1098.9" font-family="'Liberation Sans', Arial, sans-serif" font-size="16.5" font-weight="bold" text-anchor="middle" fill="#000" textLength="33" lengthAdjust="spacingAndGlyphs" stroke="#000" stroke-width="0.8">13.6</text>
<text x="1829.8" y="1098.9" font-family="'Liberation Sans', Arial, sans-serif" font-size="16.5" font-weight="bold" text-anchor="middle" fill="#000" textLength="33" lengthAdjust="spacingAndGlyphs" stroke="#000" stroke-width="0.8">13.7</text>
<text x="1094.2" y="596.8" font-family="'Liberation Sans', Arial, sans-serif" font-size="16.5" font-weight="bold" text-anchor="end" fill="#000" textLength="26.2" lengthAdjust="spacingAndGlyphs" stroke="#000" stroke-width="0.8">-10</text>
<text x="1094.2" y="643.82" font-family="'Liberation Sans', Arial, sans-serif" font-size="16.5" font-weight="bold" text-anchor="end" fill="#000" textLength="26.2" lengthAdjust="spacingAndGlyphs" stroke="#000" stroke-width="0.8">-20</text>
<text x="1094.2" y="690.84" font-family="'Liberation Sans', Arial, sans-serif" font-size="16.5" font-weight="bold" text-anchor="end" fill="#000" textLength="26.2" lengthAdjust="spacingAndGlyphs" stroke="#000" stroke-width="0.8">-30</text>
<text x="1094.2" y="737.86" font-family="'Liberation Sans', Arial, sans-serif" font-size="16.5" font-weight="bold" text-anchor="end" fill="#000" textLength="26.2" lengthAdjust="spacingAndGlyphs" stroke="#000" stroke-width="0.8">-40</text>
<text x="1094.2" y="784.88" font-family="'Liberation Sans', Arial, sans-serif" font-size="16.5" font-weight="bold" text-anchor="end" fill="#000" textLength="26.2" lengthAdjust="spacingAndGlyphs" stroke="#000" stroke-width="0.8">-50</text>
<text x="1094.2" y="831.9" font-family="'Liberation Sans', Arial, sans-serif" font-size="16.5" font-weight="bold" text-anchor="end" fill="#000" textLength="26.2" lengthAdjust="spacingAndGlyphs" stroke="#000" stroke-width="0.8">-60</text>
<text x="1094.2" y="878.92" font-family="'Liberation Sans', Arial, sans-serif" font-size="16.5" font-weight="bold" text-anchor="end" fill="#000" textLength="26.2" lengthAdjust="spacingAndGlyphs" stroke="#000" stroke-width="0.8">-70</text>
<text x="1094.2" y="925.94" font-family="'Liberation Sans', Arial, sans-serif" font-size="16.5" font-weight="bold" text-anchor="end" fill="#000" textLength="26.2" lengthAdjust="spacingAndGlyphs" stroke="#000" stroke-width="0.8">-80</text>
<text x="1094.2" y="972.96" font-family="'Liberation Sans', Arial, sans-serif" font-size="16.5" font-weight="bold" text-anchor="end" fill="#000" textLength="26.2" lengthAdjust="spacingAndGlyphs" stroke="#000" stroke-width="0.8">-90</text>
<text x="1094.2" y="1019.98" font-family="'Liberation Sans', Arial, sans-serif" font-size="16.5" font-weight="bold" text-anchor="end" fill="#000" textLength="35.3" lengthAdjust="spacingAndGlyphs" stroke="#000" stroke-width="0.8">-100</text>
<text x="1094.2" y="1067" font-family="'Liberation Sans', Arial, sans-serif" font-size="16.5" font-weight="bold" text-anchor="end" fill="#000" textLength="35.3" lengthAdjust="spacingAndGlyphs" stroke="#000" stroke-width="0.8">-110</text>
<text x="1471.9" y="1132.9" font-family="'Liberation Sans', Arial, sans-serif" font-size="17" font-weight="bold" text-anchor="middle" fill="#000" textLength="132.2" lengthAdjust="spacingAndGlyphs" stroke="#000" stroke-width="0.8">Frequency (MHz)</text>
<text transform="translate(1045.7,825.9) rotate(-90)" x="0" y="0" font-family="'Liberation Sans', Arial, sans-serif" font-size="17" font-weight="bold" text-anchor="middle" stroke="#000" stroke-width="0.8" textLength="124.3" lengthAdjust="spacingAndGlyphs">Intensity (dBm)</text>
<text x="1155" y="639" font-family="'Liberation Serif', 'Times New Roman', serif" font-size="32" font-weight="normal" text-anchor="start" fill="#ececec" textLength="34" lengthAdjust="spacingAndGlyphs">(d)</text>
<text x="1129.9" y="634.8" font-family="'Liberation Serif', 'Times New Roman', serif" font-size="33.5" font-weight="normal" text-anchor="start" fill="#000" textLength="36.8" lengthAdjust="spacingAndGlyphs">(d)</text>
<path d="M1447.9,637.9 H1566" stroke="#e8141c" stroke-width="3.4" stroke-dasharray="10.3 4"/>
<path d="M1448,921.3 H1566" stroke="#e8141c" stroke-width="3.4" stroke-dasharray="10.3 4"/>
<path d="M1536.7,656 V905" stroke="#000" stroke-width="3.5"/>
<path d="M1536.7,638.8 L1526.2,659.3 L1547.2,659.3 Z" fill="#000"/>
<path d="M1536.8,922 L1526.3,901.7 L1547.3,901.7 Z" fill="#000"/>
<text x="1567.5" y="779.5" font-family="'Liberation Serif', 'Times New Roman', serif" font-size="36" font-weight="normal" text-anchor="start" fill="#efefef" textLength="103" lengthAdjust="spacingAndGlyphs">61.3 dB</text>
<text x="1556.4" y="789.8" font-family="'Liberation Serif', 'Times New Roman', serif" font-size="37.3" font-weight="normal" text-anchor="start" fill="#000" textLength="113.6" lengthAdjust="spacingAndGlyphs">61.3 dB</text>
</svg></body></html>
